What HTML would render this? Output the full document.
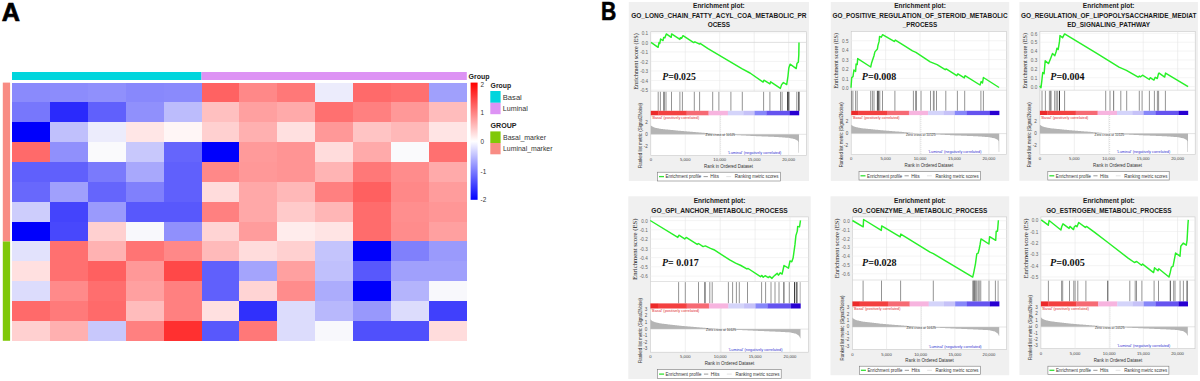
<!DOCTYPE html>
<html><head><meta charset="utf-8"><title>Figure</title>
<style>
html,body{margin:0;padding:0;background:#ffffff;}
body{width:1200px;height:381px;overflow:hidden;}
svg{display:block;font-family:"Liberation Sans", sans-serif;}
</style></head>
<body>
<svg width="1200" height="381" viewBox="0 0 1200 381">
<rect width="1200" height="381" fill="#ffffff"/>
<text x="1.8" y="20.6" font-size="25" font-weight="bold" fill="#000" stroke="#000" stroke-width="0.7" textLength="18.2" lengthAdjust="spacingAndGlyphs">A</text>
<text x="600.9" y="20.3" font-size="25" font-weight="bold" fill="#000" stroke="#000" stroke-width="0.6" textLength="15.3" lengthAdjust="spacingAndGlyphs">B</text>
<g shape-rendering="crispEdges">
<rect x="12.00" y="82.60" width="38.20" height="20.16" fill="#8a8afc"/>
<rect x="49.90" y="82.60" width="38.20" height="20.16" fill="#8c8cfc"/>
<rect x="87.80" y="82.60" width="38.20" height="20.16" fill="#9090fc"/>
<rect x="125.70" y="82.60" width="38.20" height="20.16" fill="#8888fc"/>
<rect x="163.60" y="82.60" width="38.20" height="20.16" fill="#8a8afc"/>
<rect x="201.50" y="82.60" width="38.20" height="20.16" fill="#ff6262"/>
<rect x="239.40" y="82.60" width="38.20" height="20.16" fill="#ff8888"/>
<rect x="277.30" y="82.60" width="38.20" height="20.16" fill="#ff7878"/>
<rect x="315.20" y="82.60" width="38.20" height="20.16" fill="#ececfc"/>
<rect x="353.10" y="82.60" width="38.20" height="20.16" fill="#ff6a6a"/>
<rect x="391.00" y="82.60" width="38.20" height="20.16" fill="#ff7070"/>
<rect x="428.90" y="82.60" width="38.20" height="20.16" fill="#a0a0fc"/>
<rect x="12.00" y="102.46" width="38.20" height="20.16" fill="#7777fc"/>
<rect x="49.90" y="102.46" width="38.20" height="20.16" fill="#2a2afc"/>
<rect x="87.80" y="102.46" width="38.20" height="20.16" fill="#6060fc"/>
<rect x="125.70" y="102.46" width="38.20" height="20.16" fill="#9090fc"/>
<rect x="163.60" y="102.46" width="38.20" height="20.16" fill="#bcbcfc"/>
<rect x="201.50" y="102.46" width="38.20" height="20.16" fill="#ffc0c0"/>
<rect x="239.40" y="102.46" width="38.20" height="20.16" fill="#ffa0a0"/>
<rect x="277.30" y="102.46" width="38.20" height="20.16" fill="#ffaaaa"/>
<rect x="315.20" y="102.46" width="38.20" height="20.16" fill="#ff7070"/>
<rect x="353.10" y="102.46" width="38.20" height="20.16" fill="#ff8080"/>
<rect x="391.00" y="102.46" width="38.20" height="20.16" fill="#ff9898"/>
<rect x="428.90" y="102.46" width="38.20" height="20.16" fill="#ffbcbc"/>
<rect x="12.00" y="122.32" width="38.20" height="20.16" fill="#0000fc"/>
<rect x="49.90" y="122.32" width="38.20" height="20.16" fill="#c0c0fc"/>
<rect x="87.80" y="122.32" width="38.20" height="20.16" fill="#ececfc"/>
<rect x="125.70" y="122.32" width="38.20" height="20.16" fill="#ffe6e6"/>
<rect x="163.60" y="122.32" width="38.20" height="20.16" fill="#fff6f6"/>
<rect x="201.50" y="122.32" width="38.20" height="20.16" fill="#ffd0d0"/>
<rect x="239.40" y="122.32" width="38.20" height="20.16" fill="#ffb0b0"/>
<rect x="277.30" y="122.32" width="38.20" height="20.16" fill="#ffe0e0"/>
<rect x="315.20" y="122.32" width="38.20" height="20.16" fill="#ff9898"/>
<rect x="353.10" y="122.32" width="38.20" height="20.16" fill="#ffc4c4"/>
<rect x="391.00" y="122.32" width="38.20" height="20.16" fill="#ffb8b8"/>
<rect x="428.90" y="122.32" width="38.20" height="20.16" fill="#ffe4e4"/>
<rect x="12.00" y="142.18" width="38.20" height="20.16" fill="#ff6a6a"/>
<rect x="49.90" y="142.18" width="38.20" height="20.16" fill="#9090fc"/>
<rect x="87.80" y="142.18" width="38.20" height="20.16" fill="#fafafc"/>
<rect x="125.70" y="142.18" width="38.20" height="20.16" fill="#c8c8fc"/>
<rect x="163.60" y="142.18" width="38.20" height="20.16" fill="#6565fc"/>
<rect x="201.50" y="142.18" width="38.20" height="20.16" fill="#0000fc"/>
<rect x="239.40" y="142.18" width="38.20" height="20.16" fill="#ff9a9a"/>
<rect x="277.30" y="142.18" width="38.20" height="20.16" fill="#ff9494"/>
<rect x="315.20" y="142.18" width="38.20" height="20.16" fill="#ffdcdc"/>
<rect x="353.10" y="142.18" width="38.20" height="20.16" fill="#ffaaaa"/>
<rect x="391.00" y="142.18" width="38.20" height="20.16" fill="#fafafc"/>
<rect x="428.90" y="142.18" width="38.20" height="20.16" fill="#ff7070"/>
<rect x="12.00" y="162.04" width="38.20" height="20.16" fill="#6060fc"/>
<rect x="49.90" y="162.04" width="38.20" height="20.16" fill="#6060fc"/>
<rect x="87.80" y="162.04" width="38.20" height="20.16" fill="#7a7afc"/>
<rect x="125.70" y="162.04" width="38.20" height="20.16" fill="#a8a8fc"/>
<rect x="163.60" y="162.04" width="38.20" height="20.16" fill="#6060fc"/>
<rect x="201.50" y="162.04" width="38.20" height="20.16" fill="#ff8888"/>
<rect x="239.40" y="162.04" width="38.20" height="20.16" fill="#ff9898"/>
<rect x="277.30" y="162.04" width="38.20" height="20.16" fill="#ff9494"/>
<rect x="315.20" y="162.04" width="38.20" height="20.16" fill="#ffb4b4"/>
<rect x="353.10" y="162.04" width="38.20" height="20.16" fill="#ff7878"/>
<rect x="391.00" y="162.04" width="38.20" height="20.16" fill="#ff8c8c"/>
<rect x="428.90" y="162.04" width="38.20" height="20.16" fill="#ffaaaa"/>
<rect x="12.00" y="181.90" width="38.20" height="20.16" fill="#6868fc"/>
<rect x="49.90" y="181.90" width="38.20" height="20.16" fill="#a0a0fc"/>
<rect x="87.80" y="181.90" width="38.20" height="20.16" fill="#6565fc"/>
<rect x="125.70" y="181.90" width="38.20" height="20.16" fill="#8080fc"/>
<rect x="163.60" y="181.90" width="38.20" height="20.16" fill="#6060fc"/>
<rect x="201.50" y="181.90" width="38.20" height="20.16" fill="#ffdcdc"/>
<rect x="239.40" y="181.90" width="38.20" height="20.16" fill="#ffa8a8"/>
<rect x="277.30" y="181.90" width="38.20" height="20.16" fill="#ffb8b8"/>
<rect x="315.20" y="181.90" width="38.20" height="20.16" fill="#ff8080"/>
<rect x="353.10" y="181.90" width="38.20" height="20.16" fill="#ff6060"/>
<rect x="391.00" y="181.90" width="38.20" height="20.16" fill="#ff8888"/>
<rect x="428.90" y="181.90" width="38.20" height="20.16" fill="#ff9c9c"/>
<rect x="12.00" y="201.76" width="38.20" height="20.16" fill="#cdcdfc"/>
<rect x="49.90" y="201.76" width="38.20" height="20.16" fill="#4444fc"/>
<rect x="87.80" y="201.76" width="38.20" height="20.16" fill="#9a9afc"/>
<rect x="125.70" y="201.76" width="38.20" height="20.16" fill="#5858fc"/>
<rect x="163.60" y="201.76" width="38.20" height="20.16" fill="#5858fc"/>
<rect x="201.50" y="201.76" width="38.20" height="20.16" fill="#ff8080"/>
<rect x="239.40" y="201.76" width="38.20" height="20.16" fill="#ffa8a8"/>
<rect x="277.30" y="201.76" width="38.20" height="20.16" fill="#ffcaca"/>
<rect x="315.20" y="201.76" width="38.20" height="20.16" fill="#ffb6b6"/>
<rect x="353.10" y="201.76" width="38.20" height="20.16" fill="#ff6c6c"/>
<rect x="391.00" y="201.76" width="38.20" height="20.16" fill="#ff8e8e"/>
<rect x="428.90" y="201.76" width="38.20" height="20.16" fill="#ff9696"/>
<rect x="12.00" y="221.62" width="38.20" height="20.16" fill="#0000fc"/>
<rect x="49.90" y="221.62" width="38.20" height="20.16" fill="#4848fc"/>
<rect x="87.80" y="221.62" width="38.20" height="20.16" fill="#ffd0d0"/>
<rect x="125.70" y="221.62" width="38.20" height="20.16" fill="#f8f8fc"/>
<rect x="163.60" y="221.62" width="38.20" height="20.16" fill="#9090fc"/>
<rect x="201.50" y="221.62" width="38.20" height="20.16" fill="#ffd4d4"/>
<rect x="239.40" y="221.62" width="38.20" height="20.16" fill="#ff9c9c"/>
<rect x="277.30" y="221.62" width="38.20" height="20.16" fill="#ffecec"/>
<rect x="315.20" y="221.62" width="38.20" height="20.16" fill="#ffe4e4"/>
<rect x="353.10" y="221.62" width="38.20" height="20.16" fill="#ff6c6c"/>
<rect x="391.00" y="221.62" width="38.20" height="20.16" fill="#ff8c8c"/>
<rect x="428.90" y="221.62" width="38.20" height="20.16" fill="#ffa0a0"/>
<rect x="12.00" y="241.48" width="38.20" height="20.16" fill="#e2e2fc"/>
<rect x="49.90" y="241.48" width="38.20" height="20.16" fill="#ff7070"/>
<rect x="87.80" y="241.48" width="38.20" height="20.16" fill="#ffb2b2"/>
<rect x="125.70" y="241.48" width="38.20" height="20.16" fill="#ff7474"/>
<rect x="163.60" y="241.48" width="38.20" height="20.16" fill="#ff8888"/>
<rect x="201.50" y="241.48" width="38.20" height="20.16" fill="#ffbaba"/>
<rect x="239.40" y="241.48" width="38.20" height="20.16" fill="#ffdcdc"/>
<rect x="277.30" y="241.48" width="38.20" height="20.16" fill="#ffd0d0"/>
<rect x="315.20" y="241.48" width="38.20" height="20.16" fill="#c4c4fc"/>
<rect x="353.10" y="241.48" width="38.20" height="20.16" fill="#0000fc"/>
<rect x="391.00" y="241.48" width="38.20" height="20.16" fill="#8080fc"/>
<rect x="428.90" y="241.48" width="38.20" height="20.16" fill="#9a9afc"/>
<rect x="12.00" y="261.34" width="38.20" height="20.16" fill="#ffe0e0"/>
<rect x="49.90" y="261.34" width="38.20" height="20.16" fill="#ff7070"/>
<rect x="87.80" y="261.34" width="38.20" height="20.16" fill="#ff6060"/>
<rect x="125.70" y="261.34" width="38.20" height="20.16" fill="#ff9898"/>
<rect x="163.60" y="261.34" width="38.20" height="20.16" fill="#ff4848"/>
<rect x="201.50" y="261.34" width="38.20" height="20.16" fill="#6060fc"/>
<rect x="239.40" y="261.34" width="38.20" height="20.16" fill="#a4a4fc"/>
<rect x="277.30" y="261.34" width="38.20" height="20.16" fill="#ffa0a0"/>
<rect x="315.20" y="261.34" width="38.20" height="20.16" fill="#c0c0fc"/>
<rect x="353.10" y="261.34" width="38.20" height="20.16" fill="#5858fc"/>
<rect x="391.00" y="261.34" width="38.20" height="20.16" fill="#a0a0fc"/>
<rect x="428.90" y="261.34" width="38.20" height="20.16" fill="#a0a0fc"/>
<rect x="12.00" y="281.20" width="38.20" height="20.16" fill="#dcdcfc"/>
<rect x="49.90" y="281.20" width="38.20" height="20.16" fill="#ff8a8a"/>
<rect x="87.80" y="281.20" width="38.20" height="20.16" fill="#ff6e6e"/>
<rect x="125.70" y="281.20" width="38.20" height="20.16" fill="#ffa0a0"/>
<rect x="163.60" y="281.20" width="38.20" height="20.16" fill="#ff8080"/>
<rect x="201.50" y="281.20" width="38.20" height="20.16" fill="#6060fc"/>
<rect x="239.40" y="281.20" width="38.20" height="20.16" fill="#ffd4d4"/>
<rect x="277.30" y="281.20" width="38.20" height="20.16" fill="#ff8c8c"/>
<rect x="315.20" y="281.20" width="38.20" height="20.16" fill="#acacfc"/>
<rect x="353.10" y="281.20" width="38.20" height="20.16" fill="#0000fc"/>
<rect x="391.00" y="281.20" width="38.20" height="20.16" fill="#b4b4fc"/>
<rect x="428.90" y="281.20" width="38.20" height="20.16" fill="#f8f8fc"/>
<rect x="12.00" y="301.06" width="38.20" height="20.16" fill="#ff6a6a"/>
<rect x="49.90" y="301.06" width="38.20" height="20.16" fill="#ff7a7a"/>
<rect x="87.80" y="301.06" width="38.20" height="20.16" fill="#ff6a6a"/>
<rect x="125.70" y="301.06" width="38.20" height="20.16" fill="#ffbcbc"/>
<rect x="163.60" y="301.06" width="38.20" height="20.16" fill="#ff8080"/>
<rect x="201.50" y="301.06" width="38.20" height="20.16" fill="#ffe0e0"/>
<rect x="239.40" y="301.06" width="38.20" height="20.16" fill="#3030fc"/>
<rect x="277.30" y="301.06" width="38.20" height="20.16" fill="#dcdcfc"/>
<rect x="315.20" y="301.06" width="38.20" height="20.16" fill="#b8b8fc"/>
<rect x="353.10" y="301.06" width="38.20" height="20.16" fill="#9898fc"/>
<rect x="391.00" y="301.06" width="38.20" height="20.16" fill="#dcdcfc"/>
<rect x="428.90" y="301.06" width="38.20" height="20.16" fill="#4040fc"/>
<rect x="12.00" y="320.92" width="38.20" height="20.16" fill="#ffd0d0"/>
<rect x="49.90" y="320.92" width="38.20" height="20.16" fill="#ffb0b0"/>
<rect x="87.80" y="320.92" width="38.20" height="20.16" fill="#c8c8fc"/>
<rect x="125.70" y="320.92" width="38.20" height="20.16" fill="#ff8080"/>
<rect x="163.60" y="320.92" width="38.20" height="20.16" fill="#ff3030"/>
<rect x="201.50" y="320.92" width="38.20" height="20.16" fill="#5858fc"/>
<rect x="239.40" y="320.92" width="38.20" height="20.16" fill="#ff7878"/>
<rect x="277.30" y="320.92" width="38.20" height="20.16" fill="#dcdcfc"/>
<rect x="315.20" y="320.92" width="38.20" height="20.16" fill="#f8f8fc"/>
<rect x="353.10" y="320.92" width="38.20" height="20.16" fill="#5050fc"/>
<rect x="391.00" y="320.92" width="38.20" height="20.16" fill="#5050fc"/>
<rect x="428.90" y="320.92" width="38.20" height="20.16" fill="#ffdcdc"/>
</g>
<rect x="12.0" y="72" width="189.50" height="8" fill="#00d5dd"/>
<rect x="201.50" y="72" width="265.30" height="8" fill="#dd93f4"/>
<rect x="2.8" y="82.6" width="7.3" height="158.88" fill="#f88c84"/>
<rect x="2.8" y="241.48" width="7.3" height="99.30" fill="#80c808"/>
<text x="468.5" y="79.2" font-size="7.6" font-weight="bold" fill="#222" textLength="21" lengthAdjust="spacingAndGlyphs">Group</text>
<defs><linearGradient id="cb" x1="0" y1="0" x2="0" y2="1"><stop offset="0" stop-color="#ff0000"/><stop offset="0.5" stop-color="#ffffff"/><stop offset="1" stop-color="#0000ff"/></linearGradient></defs>
<rect x="470.6" y="82.6" width="7" height="117.2" fill="url(#cb)"/>
<text x="480.5" y="86.7" font-size="6.4" fill="#333">2</text>
<text x="480.5" y="114.7" font-size="6.4" fill="#333">1</text>
<text x="480.5" y="143.9" font-size="6.4" fill="#333">0</text>
<text x="480.5" y="173.5" font-size="6.4" fill="#333">-1</text>
<text x="480.5" y="202.2" font-size="6.4" fill="#333">-2</text>
<text x="490.6" y="88.4" font-size="7.4" font-weight="bold" fill="#222" textLength="20.5" lengthAdjust="spacingAndGlyphs">Group</text>
<rect x="490.3" y="91" width="10.3" height="11.8" fill="#00d5dd"/>
<rect x="490.3" y="102.8" width="10.3" height="11.4" fill="#dd93f4"/>
<text x="502.8" y="100" font-size="7.2" fill="#333" textLength="19" lengthAdjust="spacingAndGlyphs">Basal</text>
<text x="502.8" y="111.4" font-size="7.2" fill="#333" textLength="25" lengthAdjust="spacingAndGlyphs">Luminal</text>
<text x="490.6" y="128.2" font-size="7.4" font-weight="bold" fill="#222" textLength="26" lengthAdjust="spacingAndGlyphs">GROUP</text>
<rect x="490.3" y="131.4" width="10.3" height="11.6" fill="#80c808"/>
<rect x="490.3" y="143" width="10.3" height="11.3" fill="#f88c84"/>
<text x="503" y="140.2" font-size="7.2" fill="#333" textLength="43" lengthAdjust="spacingAndGlyphs">Basal_marker</text>
<text x="503" y="151.4" font-size="7.2" fill="#333" textLength="49.5" lengthAdjust="spacingAndGlyphs">Luminal_marker</text>
<rect x="628.8" y="2.0" width="180.20" height="179.00" fill="#f0f0f0"/>
<text x="718.9" y="8.4" font-size="6.9" font-weight="bold" fill="#1a1a1a" text-anchor="middle" textLength="51.7" lengthAdjust="spacingAndGlyphs">Enrichment plot:</text>
<text x="718.9" y="18.0" font-size="6.8" font-weight="bold" fill="#1a1a1a" text-anchor="middle" textLength="175.4" lengthAdjust="spacingAndGlyphs">GO_LONG_CHAIN_FATTY_ACYL_COA_METABOLIC_PR</text>
<text x="718.9" y="26.7" font-size="6.8" font-weight="bold" fill="#1a1a1a" text-anchor="middle" textLength="22.5" lengthAdjust="spacingAndGlyphs">OCESS</text>
<rect x="650.8" y="31.7" width="155.50" height="123.80" fill="#ffffff" stroke="#c8c8c8" stroke-width="0.6"/>
<line x1="650.8" y1="32.88" x2="806.3" y2="32.88" stroke="#ededed" stroke-width="0.6"/>
<text x="648.1" y="35.08" font-size="4.6" fill="#666" text-anchor="end">0.1</text>
<line x1="650.8" y1="42.40" x2="806.3" y2="42.40" stroke="#ededed" stroke-width="0.6"/>
<text x="648.1" y="44.60" font-size="4.6" fill="#666" text-anchor="end">0.0</text>
<line x1="650.8" y1="51.92" x2="806.3" y2="51.92" stroke="#ededed" stroke-width="0.6"/>
<text x="648.1" y="54.12" font-size="4.6" fill="#666" text-anchor="end">-0.1</text>
<line x1="650.8" y1="61.44" x2="806.3" y2="61.44" stroke="#ededed" stroke-width="0.6"/>
<text x="648.1" y="63.64" font-size="4.6" fill="#666" text-anchor="end">-0.2</text>
<line x1="650.8" y1="70.96" x2="806.3" y2="70.96" stroke="#ededed" stroke-width="0.6"/>
<text x="648.1" y="73.16" font-size="4.6" fill="#666" text-anchor="end">-0.3</text>
<line x1="650.8" y1="80.48" x2="806.3" y2="80.48" stroke="#ededed" stroke-width="0.6"/>
<text x="648.1" y="82.68" font-size="4.6" fill="#666" text-anchor="end">-0.4</text>
<line x1="650.8" y1="90.00" x2="806.3" y2="90.00" stroke="#ededed" stroke-width="0.6"/>
<text x="648.1" y="92.20" font-size="4.6" fill="#666" text-anchor="end">-0.5</text>
<line x1="685.27" y1="31.7" x2="685.27" y2="91.2" stroke="#e6e6e6" stroke-width="0.6"/>
<line x1="685.27" y1="115.3" x2="685.27" y2="155.5" stroke="#e6e6e6" stroke-width="0.6"/>
<line x1="719.73" y1="31.7" x2="719.73" y2="91.2" stroke="#e6e6e6" stroke-width="0.6"/>
<line x1="719.73" y1="115.3" x2="719.73" y2="155.5" stroke="#e6e6e6" stroke-width="0.6"/>
<line x1="754.20" y1="31.7" x2="754.20" y2="91.2" stroke="#e6e6e6" stroke-width="0.6"/>
<line x1="754.20" y1="115.3" x2="754.20" y2="155.5" stroke="#e6e6e6" stroke-width="0.6"/>
<line x1="788.66" y1="31.7" x2="788.66" y2="91.2" stroke="#e6e6e6" stroke-width="0.6"/>
<line x1="788.66" y1="115.3" x2="788.66" y2="155.5" stroke="#e6e6e6" stroke-width="0.6"/>
<line x1="650.8" y1="91.2" x2="806.3" y2="91.2" stroke="#d0d0d0" stroke-width="0.6"/>
<line x1="650.8" y1="42.40" x2="806.3" y2="42.40" stroke="#d4d4d4" stroke-width="0.6"/>
<text transform="translate(637.8,61.5) rotate(-90)" font-family="Liberation Serif, serif" font-size="5.8" fill="#222" text-anchor="middle" textLength="56.5" lengthAdjust="spacingAndGlyphs">Enrichment score (ES)</text>
<line x1="658.20" y1="91.80" x2="658.20" y2="110.80" stroke="#888888" stroke-width="0.9"/>
<line x1="660.40" y1="91.80" x2="660.40" y2="110.80" stroke="#888888" stroke-width="0.9"/>
<line x1="663.50" y1="91.80" x2="663.50" y2="110.80" stroke="#888888" stroke-width="0.9"/>
<line x1="664.50" y1="91.80" x2="664.50" y2="110.80" stroke="#888888" stroke-width="0.9"/>
<line x1="666.00" y1="91.80" x2="666.00" y2="110.80" stroke="#888888" stroke-width="0.9"/>
<line x1="671.50" y1="91.80" x2="671.50" y2="110.80" stroke="#888888" stroke-width="0.9"/>
<line x1="679.90" y1="91.80" x2="679.90" y2="110.80" stroke="#888888" stroke-width="0.9"/>
<line x1="682.40" y1="91.80" x2="682.40" y2="110.80" stroke="#888888" stroke-width="0.9"/>
<line x1="694.30" y1="91.80" x2="694.30" y2="110.80" stroke="#888888" stroke-width="0.9"/>
<line x1="699.60" y1="91.80" x2="699.60" y2="110.80" stroke="#888888" stroke-width="0.9"/>
<line x1="712.70" y1="91.80" x2="712.70" y2="110.80" stroke="#888888" stroke-width="0.9"/>
<line x1="718.90" y1="91.80" x2="718.90" y2="110.80" stroke="#888888" stroke-width="0.9"/>
<line x1="730.90" y1="91.80" x2="730.90" y2="110.80" stroke="#888888" stroke-width="0.9"/>
<line x1="742.30" y1="91.80" x2="742.30" y2="110.80" stroke="#888888" stroke-width="0.9"/>
<line x1="763.60" y1="91.80" x2="763.60" y2="110.80" stroke="#888888" stroke-width="0.9"/>
<line x1="769.90" y1="91.80" x2="769.90" y2="110.80" stroke="#888888" stroke-width="0.9"/>
<line x1="780.50" y1="91.80" x2="780.50" y2="110.80" stroke="#888888" stroke-width="0.9"/>
<line x1="782.10" y1="91.80" x2="782.10" y2="110.80" stroke="#888888" stroke-width="0.9"/>
<line x1="787.60" y1="91.80" x2="787.60" y2="110.80" stroke="#222" stroke-width="0.9"/>
<line x1="788.40" y1="91.80" x2="788.40" y2="110.80" stroke="#333" stroke-width="0.9"/>
<line x1="789.20" y1="91.80" x2="789.20" y2="110.80" stroke="#888888" stroke-width="0.9"/>
<line x1="796.80" y1="91.80" x2="796.80" y2="110.80" stroke="#888888" stroke-width="0.9"/>
<line x1="798.60" y1="91.80" x2="798.60" y2="110.80" stroke="#444" stroke-width="0.9"/>
<line x1="799.40" y1="91.80" x2="799.40" y2="110.80" stroke="#888888" stroke-width="0.9"/>
<rect x="650.80" y="110.80" width="7.61" height="4.50" fill="#ec2a2a"/>
<rect x="658.21" y="110.80" width="28.65" height="4.50" fill="#f34040"/>
<rect x="686.66" y="110.80" width="22.13" height="4.50" fill="#f66a74"/>
<rect x="708.60" y="110.80" width="19.47" height="4.50" fill="#f7b4df"/>
<rect x="727.86" y="110.80" width="15.61" height="4.50" fill="#d4d4fa"/>
<rect x="743.28" y="110.80" width="11.46" height="4.50" fill="#c6c2f8"/>
<rect x="754.54" y="110.80" width="12.06" height="4.50" fill="#8787f9"/>
<rect x="766.40" y="110.80" width="23.47" height="4.50" fill="#6553ef"/>
<rect x="789.66" y="110.80" width="9.54" height="4.50" fill="#2800d2"/>
<polygon points="650.80,134.30 650.80,125.38 651.54,125.97 652.28,126.57 653.02,126.86 653.76,127.16 654.50,127.46 655.25,127.76 655.99,127.90 656.73,128.05 657.47,128.20 658.21,128.35 658.95,128.50 659.69,128.65 660.43,128.80 661.17,128.95 661.91,129.02 662.66,129.09 663.40,129.16 664.14,129.24 664.88,129.31 665.62,129.38 666.36,129.46 667.10,129.53 667.84,129.60 668.58,129.68 669.32,129.75 670.07,129.82 670.81,129.90 671.55,129.97 672.29,130.04 673.03,130.12 673.77,130.19 674.51,130.26 675.25,130.34 675.99,130.41 676.74,130.48 677.48,130.56 678.22,130.63 678.96,130.70 679.70,130.78 680.44,130.85 681.18,130.91 681.92,130.97 682.66,131.03 683.40,131.09 684.14,131.16 684.89,131.22 685.63,131.28 686.37,131.34 687.11,131.40 687.85,131.46 688.59,131.53 689.33,131.59 690.07,131.65 690.81,131.71 691.55,131.77 692.30,131.83 693.04,131.89 693.78,131.96 694.52,132.02 695.26,132.08 696.00,132.14 696.74,132.20 697.48,132.26 698.22,132.32 698.96,132.39 699.71,132.45 700.45,132.51 701.19,132.57 701.93,132.63 702.67,132.69 703.41,132.76 704.15,132.83 704.89,132.89 705.63,132.96 706.38,133.03 707.12,133.10 707.86,133.16 708.60,133.23 709.34,133.30 710.08,133.36 710.82,133.43 711.56,133.50 712.30,133.56 713.04,133.63 713.78,133.70 714.53,133.76 715.27,133.83 716.01,133.90 716.75,133.97 717.49,134.03 718.23,134.10 718.97,134.17 719.71,134.23 720.45,134.30 721.19,134.34 721.94,134.38 722.68,134.42 723.42,134.46 724.16,134.49 724.90,134.53 725.64,134.57 726.38,134.61 727.12,134.65 727.86,134.69 728.61,134.73 729.35,134.77 730.09,134.80 730.83,134.84 731.57,134.88 732.31,134.92 733.05,134.96 733.79,135.00 734.53,135.04 735.27,135.08 736.01,135.11 736.76,135.15 737.50,135.19 738.24,135.23 738.98,135.27 739.72,135.31 740.46,135.35 741.20,135.39 741.94,135.43 742.68,135.46 743.42,135.50 744.17,135.54 744.91,135.58 745.65,135.62 746.39,135.66 747.13,135.70 747.87,135.74 748.61,135.77 749.35,135.81 750.09,135.85 750.84,135.89 751.58,135.93 752.32,135.97 753.06,136.01 753.80,136.05 754.54,136.09 755.28,136.11 756.02,136.14 756.76,136.17 757.50,136.20 758.25,136.23 758.99,136.26 759.73,136.29 760.47,136.32 761.21,136.35 761.95,136.38 762.69,136.41 763.43,136.44 764.17,136.47 764.91,136.50 765.65,136.53 766.40,136.56 767.14,136.59 767.88,136.62 768.62,136.65 769.36,136.68 770.10,136.71 770.84,136.74 771.58,136.77 772.32,136.80 773.06,136.83 773.81,136.86 774.55,136.89 775.29,136.92 776.03,136.95 776.77,136.98 777.51,137.03 778.25,137.09 778.99,137.14 779.73,137.20 780.48,137.26 781.22,137.31 781.96,137.37 782.70,137.42 783.44,137.48 784.18,137.54 784.92,137.59 785.66,137.65 786.40,137.70 787.14,137.76 787.88,137.81 788.63,137.87 789.37,138.02 790.11,138.17 790.85,138.32 791.59,138.47 792.33,138.61 793.07,138.76 793.81,138.91 794.55,139.06 795.29,139.43 796.04,139.80 796.78,140.18 797.52,140.55 798.26,141.79 798.41,142.04 798.56,152.75 799.00,152.75 799.00,134.30" fill="#b4b4b4"/>
<line x1="650.8" y1="134.30" x2="806.3" y2="134.30" stroke="#c8c8c8" stroke-width="0.5"/>
<line x1="720.59" y1="115.3" x2="720.59" y2="155.5" stroke="#bbbbbb" stroke-width="0.5" stroke-dasharray="1,1"/>
<text x="647.8" y="123.80" font-size="4.6" fill="#555" text-anchor="end">2</text>
<text x="647.8" y="135.70" font-size="4.6" fill="#555" text-anchor="end">0</text>
<text x="647.8" y="147.60" font-size="4.6" fill="#555" text-anchor="end">-2</text>
<text x="651.8" y="118.90" font-size="3.4" fill="#e03030" textLength="47.4" lengthAdjust="spacingAndGlyphs">'Basal' (positively correlated)</text>
<text x="705.6" y="136.30" font-size="3.6" fill="#333" textLength="29.6" lengthAdjust="spacingAndGlyphs">Zero cross at 10125</text>
<text x="727.9" y="153.90" font-size="3.6" fill="#3030d0" textLength="53.4" lengthAdjust="spacingAndGlyphs">'Luminal' (negatively correlated)</text>
<text transform="translate(642.1,135.4) rotate(-90)" font-size="5.2" fill="#333" text-anchor="middle" textLength="65" lengthAdjust="spacingAndGlyphs">Ranked list metric (Signal2Noise)</text>
<text x="650.80" y="161.10" font-size="4.2" fill="#444" text-anchor="middle">0</text>
<text x="685.27" y="161.10" font-size="4.2" fill="#444" text-anchor="middle">5,000</text>
<text x="719.73" y="161.10" font-size="4.2" fill="#444" text-anchor="middle">10,000</text>
<text x="754.20" y="161.10" font-size="4.2" fill="#444" text-anchor="middle">15,000</text>
<text x="788.66" y="161.10" font-size="4.2" fill="#444" text-anchor="middle">20,000</text>
<text x="728.55" y="167.90" font-size="5.2" fill="#333" text-anchor="middle" textLength="48.9" lengthAdjust="spacingAndGlyphs">Rank in Ordered Dataset</text>
<rect x="657.5" y="172.2" width="122.80" height="8.80" fill="#ffffff" stroke="#7a7a7a" stroke-width="0.6"/>
<line x1="659.00" y1="176.60" x2="664.00" y2="176.60" stroke="#33e033" stroke-width="1.3"/>
<text x="665.50" y="178.40" font-size="5" fill="#333" textLength="35.6" lengthAdjust="spacingAndGlyphs">Enrichment profile</text>
<line x1="703.55" y1="176.60" x2="707.85" y2="176.60" stroke="#555" stroke-width="0.6"/>
<text x="710.30" y="178.40" font-size="5" fill="#333" textLength="8.6" lengthAdjust="spacingAndGlyphs">Hits</text>
<line x1="726.27" y1="176.60" x2="731.18" y2="176.60" stroke="#ccc" stroke-width="0.6"/>
<text x="734.86" y="178.40" font-size="5" fill="#333" textLength="43.6" lengthAdjust="spacingAndGlyphs">Ranking metric scores</text>
<polyline points="651.00,42.40 658.10,47.30 659.00,42.60 659.80,43.40 660.60,39.00 663.00,40.60 663.70,37.40 664.90,37.80 666.30,33.90 671.20,37.30 671.60,33.90 679.90,39.40 680.30,37.80 681.70,38.20 683.00,35.70 693.70,42.60 694.90,41.80 699.60,44.10 700.10,43.40 708.00,48.60 741.80,68.70 750.00,73.00 763.10,82.10 763.90,80.20 769.90,83.90 770.70,81.80 780.40,88.40 781.50,84.90 783.40,82.50 786.70,84.60 788.00,76.00 788.80,68.10 790.10,64.20 796.20,68.60 797.00,63.40 798.30,62.30 798.80,55.00 799.00,42.40" fill="none" stroke="#28f028" stroke-width="1.45" stroke-linejoin="round"/>
<text x="662.2" y="79.5" font-family="Liberation Serif, serif" font-size="10.4" font-weight="bold" fill="#111" textLength="33.6" lengthAdjust="spacingAndGlyphs"><tspan font-style="italic">P</tspan>=0.025</text>
<rect x="830.8" y="2.0" width="178.40" height="178.90" fill="#f0f0f0"/>
<text x="920.0" y="8.4" font-size="6.9" font-weight="bold" fill="#1a1a1a" text-anchor="middle" textLength="51.7" lengthAdjust="spacingAndGlyphs">Enrichment plot:</text>
<text x="920.0" y="17.8" font-size="6.8" font-weight="bold" fill="#1a1a1a" text-anchor="middle" textLength="175.1" lengthAdjust="spacingAndGlyphs">GO_POSITIVE_REGULATION_OF_STEROID_METABOLIC</text>
<text x="920.0" y="27.0" font-size="6.8" font-weight="bold" fill="#1a1a1a" text-anchor="middle" textLength="34.5" lengthAdjust="spacingAndGlyphs">_PROCESS</text>
<rect x="851.2" y="31.5" width="155.40" height="123.10" fill="#ffffff" stroke="#c8c8c8" stroke-width="0.6"/>
<line x1="851.2" y1="40.70" x2="1006.6" y2="40.70" stroke="#ededed" stroke-width="0.6"/>
<text x="848.5" y="42.90" font-size="4.6" fill="#666" text-anchor="end">0.5</text>
<line x1="851.2" y1="50.14" x2="1006.6" y2="50.14" stroke="#ededed" stroke-width="0.6"/>
<text x="848.5" y="52.34" font-size="4.6" fill="#666" text-anchor="end">0.4</text>
<line x1="851.2" y1="59.58" x2="1006.6" y2="59.58" stroke="#ededed" stroke-width="0.6"/>
<text x="848.5" y="61.78" font-size="4.6" fill="#666" text-anchor="end">0.3</text>
<line x1="851.2" y1="69.02" x2="1006.6" y2="69.02" stroke="#ededed" stroke-width="0.6"/>
<text x="848.5" y="71.22" font-size="4.6" fill="#666" text-anchor="end">0.2</text>
<line x1="851.2" y1="78.46" x2="1006.6" y2="78.46" stroke="#ededed" stroke-width="0.6"/>
<text x="848.5" y="80.66" font-size="4.6" fill="#666" text-anchor="end">0.1</text>
<line x1="851.2" y1="87.90" x2="1006.6" y2="87.90" stroke="#ededed" stroke-width="0.6"/>
<text x="848.5" y="90.10" font-size="4.6" fill="#666" text-anchor="end">0.0</text>
<line x1="885.62" y1="31.5" x2="885.62" y2="90.2" stroke="#e6e6e6" stroke-width="0.6"/>
<line x1="885.62" y1="115.1" x2="885.62" y2="154.6" stroke="#e6e6e6" stroke-width="0.6"/>
<line x1="920.04" y1="31.5" x2="920.04" y2="90.2" stroke="#e6e6e6" stroke-width="0.6"/>
<line x1="920.04" y1="115.1" x2="920.04" y2="154.6" stroke="#e6e6e6" stroke-width="0.6"/>
<line x1="954.46" y1="31.5" x2="954.46" y2="90.2" stroke="#e6e6e6" stroke-width="0.6"/>
<line x1="954.46" y1="115.1" x2="954.46" y2="154.6" stroke="#e6e6e6" stroke-width="0.6"/>
<line x1="988.87" y1="31.5" x2="988.87" y2="90.2" stroke="#e6e6e6" stroke-width="0.6"/>
<line x1="988.87" y1="115.1" x2="988.87" y2="154.6" stroke="#e6e6e6" stroke-width="0.6"/>
<line x1="851.2" y1="90.2" x2="1006.6" y2="90.2" stroke="#d0d0d0" stroke-width="0.6"/>
<text transform="translate(838.2,60.9) rotate(-90)" font-family="Liberation Serif, serif" font-size="5.8" fill="#222" text-anchor="middle" textLength="55.8" lengthAdjust="spacingAndGlyphs">Enrichment score (ES)</text>
<line x1="851.50" y1="90.80" x2="851.50" y2="110.80" stroke="#888888" stroke-width="0.9"/>
<line x1="852.90" y1="90.80" x2="852.90" y2="110.80" stroke="#888888" stroke-width="0.9"/>
<line x1="855.60" y1="90.80" x2="855.60" y2="110.80" stroke="#888888" stroke-width="0.9"/>
<line x1="857.20" y1="90.80" x2="857.20" y2="110.80" stroke="#888888" stroke-width="0.9"/>
<line x1="870.70" y1="90.80" x2="870.70" y2="110.80" stroke="#888888" stroke-width="0.9"/>
<line x1="872.40" y1="90.80" x2="872.40" y2="110.80" stroke="#888888" stroke-width="0.9"/>
<line x1="874.00" y1="90.80" x2="874.00" y2="110.80" stroke="#888888" stroke-width="0.9"/>
<line x1="877.40" y1="90.80" x2="877.40" y2="110.80" stroke="#333" stroke-width="0.9"/>
<line x1="878.70" y1="90.80" x2="878.70" y2="110.80" stroke="#333" stroke-width="0.9"/>
<line x1="879.80" y1="90.80" x2="879.80" y2="110.80" stroke="#888888" stroke-width="0.9"/>
<line x1="882.50" y1="90.80" x2="882.50" y2="110.80" stroke="#888888" stroke-width="0.9"/>
<line x1="894.90" y1="90.80" x2="894.90" y2="110.80" stroke="#888888" stroke-width="0.9"/>
<line x1="913.40" y1="90.80" x2="913.40" y2="110.80" stroke="#888888" stroke-width="0.9"/>
<line x1="915.60" y1="90.80" x2="915.60" y2="110.80" stroke="#888888" stroke-width="0.9"/>
<line x1="916.50" y1="90.80" x2="916.50" y2="110.80" stroke="#888888" stroke-width="0.9"/>
<line x1="921.00" y1="90.80" x2="921.00" y2="110.80" stroke="#888888" stroke-width="0.9"/>
<line x1="930.50" y1="90.80" x2="930.50" y2="110.80" stroke="#888888" stroke-width="0.9"/>
<line x1="933.40" y1="90.80" x2="933.40" y2="110.80" stroke="#888888" stroke-width="0.9"/>
<line x1="934.10" y1="90.80" x2="934.10" y2="110.80" stroke="#888888" stroke-width="0.9"/>
<line x1="936.50" y1="90.80" x2="936.50" y2="110.80" stroke="#888888" stroke-width="0.9"/>
<line x1="945.80" y1="90.80" x2="945.80" y2="110.80" stroke="#888888" stroke-width="0.9"/>
<line x1="957.40" y1="90.80" x2="957.40" y2="110.80" stroke="#888888" stroke-width="0.9"/>
<line x1="964.70" y1="90.80" x2="964.70" y2="110.80" stroke="#888888" stroke-width="0.9"/>
<line x1="980.90" y1="90.80" x2="980.90" y2="110.80" stroke="#888888" stroke-width="0.9"/>
<line x1="983.40" y1="90.80" x2="983.40" y2="110.80" stroke="#888888" stroke-width="0.9"/>
<rect x="851.20" y="110.80" width="7.60" height="4.30" fill="#ec2a2a"/>
<rect x="858.60" y="110.80" width="28.62" height="4.30" fill="#f34040"/>
<rect x="887.02" y="110.80" width="22.10" height="4.30" fill="#f66a74"/>
<rect x="908.92" y="110.80" width="19.44" height="4.30" fill="#f7b4df"/>
<rect x="928.16" y="110.80" width="15.59" height="4.30" fill="#d4d4fa"/>
<rect x="943.55" y="110.80" width="11.45" height="4.30" fill="#c6c2f8"/>
<rect x="954.80" y="110.80" width="12.04" height="4.30" fill="#8787f9"/>
<rect x="966.64" y="110.80" width="23.44" height="4.30" fill="#6553ef"/>
<rect x="989.88" y="110.80" width="9.52" height="4.30" fill="#2800d2"/>
<polygon points="851.20,133.60 851.20,124.67 851.94,125.27 852.68,125.86 853.42,126.16 854.16,126.46 854.90,126.76 855.64,127.05 856.38,127.20 857.12,127.35 857.86,127.50 858.60,127.65 859.34,127.80 860.08,127.95 860.82,128.10 861.56,128.25 862.30,128.32 863.04,128.39 863.78,128.46 864.52,128.54 865.26,128.61 866.00,128.68 866.74,128.76 867.48,128.83 868.22,128.90 868.96,128.98 869.70,129.05 870.44,129.12 871.18,129.20 871.92,129.27 872.66,129.34 873.40,129.42 874.14,129.49 874.88,129.56 875.62,129.64 876.36,129.71 877.10,129.78 877.84,129.86 878.58,129.93 879.32,130.00 880.06,130.08 880.80,130.15 881.54,130.21 882.28,130.27 883.02,130.33 883.76,130.39 884.50,130.46 885.24,130.52 885.98,130.58 886.72,130.64 887.46,130.70 888.20,130.76 888.94,130.83 889.68,130.89 890.42,130.95 891.16,131.01 891.90,131.07 892.64,131.13 893.38,131.19 894.12,131.26 894.86,131.32 895.60,131.38 896.34,131.44 897.08,131.50 897.82,131.56 898.56,131.62 899.30,131.69 900.04,131.75 900.78,131.81 901.52,131.87 902.26,131.93 903.00,131.99 903.74,132.06 904.48,132.13 905.22,132.19 905.96,132.26 906.70,132.33 907.44,132.40 908.18,132.46 908.92,132.53 909.66,132.60 910.40,132.66 911.14,132.73 911.88,132.80 912.62,132.86 913.36,132.93 914.10,133.00 914.84,133.06 915.58,133.13 916.32,133.20 917.06,133.27 917.80,133.33 918.54,133.40 919.28,133.47 920.02,133.53 920.76,133.60 921.50,133.64 922.24,133.68 922.98,133.72 923.72,133.76 924.46,133.79 925.20,133.83 925.94,133.87 926.68,133.91 927.42,133.95 928.16,133.99 928.90,134.03 929.64,134.07 930.38,134.10 931.12,134.14 931.86,134.18 932.60,134.22 933.34,134.26 934.08,134.30 934.82,134.34 935.56,134.38 936.30,134.41 937.04,134.45 937.78,134.49 938.52,134.53 939.26,134.57 940.00,134.61 940.74,134.65 941.48,134.69 942.22,134.73 942.96,134.76 943.70,134.80 944.44,134.84 945.18,134.88 945.92,134.92 946.66,134.96 947.40,135.00 948.14,135.04 948.88,135.07 949.62,135.11 950.36,135.15 951.10,135.19 951.84,135.23 952.58,135.27 953.32,135.31 954.06,135.35 954.80,135.38 955.54,135.41 956.28,135.44 957.02,135.47 957.76,135.50 958.50,135.53 959.24,135.56 959.98,135.59 960.72,135.62 961.46,135.65 962.20,135.68 962.94,135.71 963.68,135.74 964.42,135.77 965.16,135.80 965.90,135.83 966.64,135.86 967.38,135.89 968.12,135.92 968.86,135.95 969.60,135.98 970.34,136.01 971.08,136.04 971.82,136.07 972.56,136.10 973.30,136.13 974.04,136.16 974.78,136.19 975.52,136.22 976.26,136.25 977.00,136.28 977.74,136.33 978.48,136.39 979.22,136.44 979.96,136.50 980.70,136.56 981.44,136.61 982.18,136.67 982.92,136.72 983.66,136.78 984.40,136.84 985.14,136.89 985.88,136.95 986.62,137.00 987.36,137.06 988.10,137.11 988.84,137.17 989.58,137.32 990.32,137.47 991.06,137.62 991.80,137.76 992.54,137.91 993.28,138.06 994.02,138.21 994.76,138.36 995.50,138.73 996.24,139.10 996.98,139.48 997.72,139.85 998.46,141.09 998.61,141.34 998.76,152.04 999.20,152.04 999.20,133.60" fill="#b4b4b4"/>
<line x1="851.2" y1="133.60" x2="1006.6" y2="133.60" stroke="#c8c8c8" stroke-width="0.5"/>
<line x1="920.90" y1="115.1" x2="920.90" y2="154.6" stroke="#bbbbbb" stroke-width="0.5" stroke-dasharray="1,1"/>
<text x="848.2" y="123.10" font-size="4.6" fill="#555" text-anchor="end">2</text>
<text x="848.2" y="135.00" font-size="4.6" fill="#555" text-anchor="end">0</text>
<text x="848.2" y="146.90" font-size="4.6" fill="#555" text-anchor="end">-2</text>
<text x="852.2" y="118.70" font-size="3.4" fill="#e03030" textLength="47.4" lengthAdjust="spacingAndGlyphs">'Basal' (positively correlated)</text>
<text x="905.9" y="135.60" font-size="3.6" fill="#333" textLength="29.6" lengthAdjust="spacingAndGlyphs">Zero cross at 10125</text>
<text x="928.2" y="153.00" font-size="3.6" fill="#3030d0" textLength="53.3" lengthAdjust="spacingAndGlyphs">'Luminal' (negatively correlated)</text>
<text transform="translate(842.5,134.8) rotate(-90)" font-size="5.2" fill="#333" text-anchor="middle" textLength="65" lengthAdjust="spacingAndGlyphs">Ranked list metric (Signal2Noise)</text>
<text x="851.20" y="160.20" font-size="4.2" fill="#444" text-anchor="middle">0</text>
<text x="885.62" y="160.20" font-size="4.2" fill="#444" text-anchor="middle">5,000</text>
<text x="920.04" y="160.20" font-size="4.2" fill="#444" text-anchor="middle">10,000</text>
<text x="954.46" y="160.20" font-size="4.2" fill="#444" text-anchor="middle">15,000</text>
<text x="988.87" y="160.20" font-size="4.2" fill="#444" text-anchor="middle">20,000</text>
<text x="928.90" y="167.00" font-size="5.2" fill="#333" text-anchor="middle" textLength="48.8" lengthAdjust="spacingAndGlyphs">Rank in Ordered Dataset</text>
<rect x="859.0" y="171.6" width="121.40" height="8.40" fill="#ffffff" stroke="#7a7a7a" stroke-width="0.6"/>
<line x1="860.50" y1="175.80" x2="865.50" y2="175.80" stroke="#33e033" stroke-width="1.3"/>
<text x="867.00" y="177.60" font-size="5" fill="#333" textLength="35.2" lengthAdjust="spacingAndGlyphs">Enrichment profile</text>
<line x1="904.52" y1="175.80" x2="908.77" y2="175.80" stroke="#555" stroke-width="0.6"/>
<text x="911.20" y="177.60" font-size="5" fill="#333" textLength="8.5" lengthAdjust="spacingAndGlyphs">Hits</text>
<line x1="926.98" y1="175.80" x2="931.84" y2="175.80" stroke="#ccc" stroke-width="0.6"/>
<text x="935.48" y="177.60" font-size="5" fill="#333" textLength="43.1" lengthAdjust="spacingAndGlyphs">Ranking metric scores</text>
<polyline points="851.00,87.70 851.70,77.60 853.00,76.70 853.90,70.00 855.60,71.40 856.10,64.10 857.20,64.60 857.70,58.60 870.70,67.00 871.50,63.30 872.90,59.10 874.00,55.70 874.90,51.90 877.40,49.00 877.90,45.60 879.10,41.40 879.60,36.40 881.30,37.20 882.50,34.70 894.20,41.40 895.40,40.10 905.00,46.10 912.50,50.90 915.90,52.30 930.20,61.80 937.10,64.60 945.20,69.70 946.20,68.90 956.80,75.70 957.90,73.80 964.30,77.90 965.00,75.70 980.00,85.00 981.10,81.60 982.50,83.00 983.40,77.50 999.10,87.50" fill="none" stroke="#28f028" stroke-width="1.45" stroke-linejoin="round"/>
<text x="861.8" y="80.2" font-family="Liberation Serif, serif" font-size="10.4" font-weight="bold" fill="#111" textLength="34.4" lengthAdjust="spacingAndGlyphs"><tspan font-style="italic">P</tspan>=0.008</text>
<rect x="1019.4" y="2.0" width="178.50" height="178.80" fill="#f0f0f0"/>
<text x="1108.7" y="8.4" font-size="6.9" font-weight="bold" fill="#1a1a1a" text-anchor="middle" textLength="51.7" lengthAdjust="spacingAndGlyphs">Enrichment plot:</text>
<text x="1108.7" y="17.8" font-size="6.8" font-weight="bold" fill="#1a1a1a" text-anchor="middle" textLength="175.4" lengthAdjust="spacingAndGlyphs">GO_REGULATION_OF_LIPOPOLYSACCHARIDE_MEDIAT</text>
<text x="1108.7" y="27.0" font-size="6.8" font-weight="bold" fill="#1a1a1a" text-anchor="middle" textLength="83.0" lengthAdjust="spacingAndGlyphs">ED_SIGNALING_PATHWAY</text>
<rect x="1039.9" y="31.5" width="155.30" height="123.10" fill="#ffffff" stroke="#c8c8c8" stroke-width="0.6"/>
<line x1="1039.9" y1="33.32" x2="1195.2" y2="33.32" stroke="#ededed" stroke-width="0.6"/>
<text x="1037.2" y="35.52" font-size="4.6" fill="#666" text-anchor="end">0.6</text>
<line x1="1039.9" y1="42.20" x2="1195.2" y2="42.20" stroke="#ededed" stroke-width="0.6"/>
<text x="1037.2" y="44.40" font-size="4.6" fill="#666" text-anchor="end">0.5</text>
<line x1="1039.9" y1="51.08" x2="1195.2" y2="51.08" stroke="#ededed" stroke-width="0.6"/>
<text x="1037.2" y="53.28" font-size="4.6" fill="#666" text-anchor="end">0.4</text>
<line x1="1039.9" y1="59.96" x2="1195.2" y2="59.96" stroke="#ededed" stroke-width="0.6"/>
<text x="1037.2" y="62.16" font-size="4.6" fill="#666" text-anchor="end">0.3</text>
<line x1="1039.9" y1="68.84" x2="1195.2" y2="68.84" stroke="#ededed" stroke-width="0.6"/>
<text x="1037.2" y="71.04" font-size="4.6" fill="#666" text-anchor="end">0.2</text>
<line x1="1039.9" y1="77.72" x2="1195.2" y2="77.72" stroke="#ededed" stroke-width="0.6"/>
<text x="1037.2" y="79.92" font-size="4.6" fill="#666" text-anchor="end">0.1</text>
<line x1="1039.9" y1="86.60" x2="1195.2" y2="86.60" stroke="#ededed" stroke-width="0.6"/>
<text x="1037.2" y="88.80" font-size="4.6" fill="#666" text-anchor="end">0.0</text>
<line x1="1074.34" y1="31.5" x2="1074.34" y2="90.2" stroke="#e6e6e6" stroke-width="0.6"/>
<line x1="1074.34" y1="115.0" x2="1074.34" y2="154.6" stroke="#e6e6e6" stroke-width="0.6"/>
<line x1="1108.78" y1="31.5" x2="1108.78" y2="90.2" stroke="#e6e6e6" stroke-width="0.6"/>
<line x1="1108.78" y1="115.0" x2="1108.78" y2="154.6" stroke="#e6e6e6" stroke-width="0.6"/>
<line x1="1143.23" y1="31.5" x2="1143.23" y2="90.2" stroke="#e6e6e6" stroke-width="0.6"/>
<line x1="1143.23" y1="115.0" x2="1143.23" y2="154.6" stroke="#e6e6e6" stroke-width="0.6"/>
<line x1="1177.67" y1="31.5" x2="1177.67" y2="90.2" stroke="#e6e6e6" stroke-width="0.6"/>
<line x1="1177.67" y1="115.0" x2="1177.67" y2="154.6" stroke="#e6e6e6" stroke-width="0.6"/>
<line x1="1039.9" y1="90.2" x2="1195.2" y2="90.2" stroke="#d0d0d0" stroke-width="0.6"/>
<text transform="translate(1026.9,60.9) rotate(-90)" font-family="Liberation Serif, serif" font-size="5.8" fill="#222" text-anchor="middle" textLength="55.8" lengthAdjust="spacingAndGlyphs">Enrichment score (ES)</text>
<line x1="1042.00" y1="90.80" x2="1042.00" y2="110.80" stroke="#888888" stroke-width="0.9"/>
<line x1="1045.40" y1="90.80" x2="1045.40" y2="110.80" stroke="#888888" stroke-width="0.9"/>
<line x1="1049.40" y1="90.80" x2="1049.40" y2="110.80" stroke="#888888" stroke-width="0.9"/>
<line x1="1050.50" y1="90.80" x2="1050.50" y2="110.80" stroke="#888888" stroke-width="0.9"/>
<line x1="1051.10" y1="90.80" x2="1051.10" y2="110.80" stroke="#888888" stroke-width="0.9"/>
<line x1="1054.70" y1="90.80" x2="1054.70" y2="110.80" stroke="#888888" stroke-width="0.9"/>
<line x1="1056.20" y1="90.80" x2="1056.20" y2="110.80" stroke="#888888" stroke-width="0.9"/>
<line x1="1057.70" y1="90.80" x2="1057.70" y2="110.80" stroke="#888888" stroke-width="0.9"/>
<line x1="1059.50" y1="90.80" x2="1059.50" y2="110.80" stroke="#222" stroke-width="0.9"/>
<line x1="1064.60" y1="90.80" x2="1064.60" y2="110.80" stroke="#888888" stroke-width="0.9"/>
<line x1="1105.70" y1="90.80" x2="1105.70" y2="110.80" stroke="#888888" stroke-width="0.9"/>
<line x1="1110.00" y1="90.80" x2="1110.00" y2="110.80" stroke="#888888" stroke-width="0.9"/>
<line x1="1113.50" y1="90.80" x2="1113.50" y2="110.80" stroke="#888888" stroke-width="0.9"/>
<line x1="1113.70" y1="90.80" x2="1113.70" y2="110.80" stroke="#888888" stroke-width="0.9"/>
<line x1="1120.80" y1="90.80" x2="1120.80" y2="110.80" stroke="#888888" stroke-width="0.9"/>
<line x1="1126.70" y1="90.80" x2="1126.70" y2="110.80" stroke="#888888" stroke-width="0.9"/>
<line x1="1139.30" y1="90.80" x2="1139.30" y2="110.80" stroke="#888888" stroke-width="0.9"/>
<line x1="1142.10" y1="90.80" x2="1142.10" y2="110.80" stroke="#888888" stroke-width="0.9"/>
<line x1="1149.40" y1="90.80" x2="1149.40" y2="110.80" stroke="#888888" stroke-width="0.9"/>
<line x1="1154.40" y1="90.80" x2="1154.40" y2="110.80" stroke="#888888" stroke-width="0.9"/>
<line x1="1157.40" y1="90.80" x2="1157.40" y2="110.80" stroke="#888888" stroke-width="0.9"/>
<line x1="1158.60" y1="90.80" x2="1158.60" y2="110.80" stroke="#888888" stroke-width="0.9"/>
<line x1="1165.40" y1="90.80" x2="1165.40" y2="110.80" stroke="#888888" stroke-width="0.9"/>
<rect x="1039.90" y="110.80" width="7.60" height="4.20" fill="#ec2a2a"/>
<rect x="1047.31" y="110.80" width="28.64" height="4.20" fill="#f34040"/>
<rect x="1075.74" y="110.80" width="22.12" height="4.20" fill="#f66a74"/>
<rect x="1097.66" y="110.80" width="19.45" height="4.20" fill="#f7b4df"/>
<rect x="1116.91" y="110.80" width="15.60" height="4.20" fill="#d4d4fa"/>
<rect x="1132.31" y="110.80" width="11.46" height="4.20" fill="#c6c2f8"/>
<rect x="1143.57" y="110.80" width="12.05" height="4.20" fill="#8787f9"/>
<rect x="1155.42" y="110.80" width="23.45" height="4.20" fill="#6553ef"/>
<rect x="1178.67" y="110.80" width="9.53" height="4.20" fill="#2800d2"/>
<polygon points="1039.90,133.60 1039.90,124.67 1040.64,125.27 1041.38,125.86 1042.12,126.16 1042.86,126.46 1043.60,126.76 1044.34,127.05 1045.08,127.20 1045.82,127.35 1046.56,127.50 1047.31,127.65 1048.05,127.80 1048.79,127.95 1049.53,128.10 1050.27,128.25 1051.01,128.32 1051.75,128.39 1052.49,128.46 1053.23,128.54 1053.97,128.61 1054.71,128.68 1055.45,128.76 1056.19,128.83 1056.93,128.90 1057.67,128.98 1058.41,129.05 1059.15,129.12 1059.89,129.20 1060.63,129.27 1061.37,129.34 1062.12,129.42 1062.86,129.49 1063.60,129.56 1064.34,129.64 1065.08,129.71 1065.82,129.78 1066.56,129.86 1067.30,129.93 1068.04,130.00 1068.78,130.08 1069.52,130.15 1070.26,130.21 1071.00,130.27 1071.74,130.33 1072.48,130.39 1073.22,130.46 1073.96,130.52 1074.70,130.58 1075.44,130.64 1076.18,130.70 1076.93,130.76 1077.67,130.83 1078.41,130.89 1079.15,130.95 1079.89,131.01 1080.63,131.07 1081.37,131.13 1082.11,131.19 1082.85,131.26 1083.59,131.32 1084.33,131.38 1085.07,131.44 1085.81,131.50 1086.55,131.56 1087.29,131.62 1088.03,131.69 1088.77,131.75 1089.51,131.81 1090.25,131.87 1090.99,131.93 1091.74,131.99 1092.48,132.06 1093.22,132.13 1093.96,132.19 1094.70,132.26 1095.44,132.33 1096.18,132.40 1096.92,132.46 1097.66,132.53 1098.40,132.60 1099.14,132.66 1099.88,132.73 1100.62,132.80 1101.36,132.86 1102.10,132.93 1102.84,133.00 1103.58,133.06 1104.32,133.13 1105.06,133.20 1105.80,133.27 1106.55,133.33 1107.29,133.40 1108.03,133.47 1108.77,133.53 1109.51,133.60 1110.25,133.64 1110.99,133.68 1111.73,133.72 1112.47,133.76 1113.21,133.79 1113.95,133.83 1114.69,133.87 1115.43,133.91 1116.17,133.95 1116.91,133.99 1117.65,134.03 1118.39,134.07 1119.13,134.10 1119.87,134.14 1120.61,134.18 1121.36,134.22 1122.10,134.26 1122.84,134.30 1123.58,134.34 1124.32,134.38 1125.06,134.41 1125.80,134.45 1126.54,134.49 1127.28,134.53 1128.02,134.57 1128.76,134.61 1129.50,134.65 1130.24,134.69 1130.98,134.73 1131.72,134.76 1132.46,134.80 1133.20,134.84 1133.94,134.88 1134.68,134.92 1135.42,134.96 1136.16,135.00 1136.91,135.04 1137.65,135.07 1138.39,135.11 1139.13,135.15 1139.87,135.19 1140.61,135.23 1141.35,135.27 1142.09,135.31 1142.83,135.35 1143.57,135.38 1144.31,135.41 1145.05,135.44 1145.79,135.47 1146.53,135.50 1147.27,135.53 1148.01,135.56 1148.75,135.59 1149.49,135.62 1150.23,135.65 1150.97,135.68 1151.72,135.71 1152.46,135.74 1153.20,135.77 1153.94,135.80 1154.68,135.83 1155.42,135.86 1156.16,135.89 1156.90,135.92 1157.64,135.95 1158.38,135.98 1159.12,136.01 1159.86,136.04 1160.60,136.07 1161.34,136.10 1162.08,136.13 1162.82,136.16 1163.56,136.19 1164.30,136.22 1165.04,136.25 1165.79,136.28 1166.53,136.33 1167.27,136.39 1168.01,136.44 1168.75,136.50 1169.49,136.56 1170.23,136.61 1170.97,136.67 1171.71,136.72 1172.45,136.78 1173.19,136.84 1173.93,136.89 1174.67,136.95 1175.41,137.00 1176.15,137.06 1176.89,137.11 1177.63,137.17 1178.37,137.32 1179.11,137.47 1179.85,137.62 1180.60,137.76 1181.34,137.91 1182.08,138.06 1182.82,138.21 1183.56,138.36 1184.30,138.73 1185.04,139.10 1185.78,139.48 1186.52,139.85 1187.26,141.09 1187.41,141.34 1187.56,152.04 1188.00,152.04 1188.00,133.60" fill="#b4b4b4"/>
<line x1="1039.9" y1="133.60" x2="1195.2" y2="133.60" stroke="#c8c8c8" stroke-width="0.5"/>
<line x1="1109.64" y1="115.0" x2="1109.64" y2="154.6" stroke="#bbbbbb" stroke-width="0.5" stroke-dasharray="1,1"/>
<text x="1036.9" y="123.10" font-size="4.6" fill="#555" text-anchor="end">2</text>
<text x="1036.9" y="135.00" font-size="4.6" fill="#555" text-anchor="end">0</text>
<text x="1036.9" y="146.90" font-size="4.6" fill="#555" text-anchor="end">-2</text>
<text x="1040.9" y="118.60" font-size="3.4" fill="#e03030" textLength="47.4" lengthAdjust="spacingAndGlyphs">'Basal' (positively correlated)</text>
<text x="1094.6" y="135.60" font-size="3.6" fill="#333" textLength="29.6" lengthAdjust="spacingAndGlyphs">Zero cross at 10125</text>
<text x="1116.9" y="153.00" font-size="3.6" fill="#3030d0" textLength="53.3" lengthAdjust="spacingAndGlyphs">'Luminal' (negatively correlated)</text>
<text transform="translate(1031.2,134.8) rotate(-90)" font-size="5.2" fill="#333" text-anchor="middle" textLength="65" lengthAdjust="spacingAndGlyphs">Ranked list metric (Signal2Noise)</text>
<text x="1039.90" y="160.20" font-size="4.2" fill="#444" text-anchor="middle">0</text>
<text x="1074.34" y="160.20" font-size="4.2" fill="#444" text-anchor="middle">5,000</text>
<text x="1108.78" y="160.20" font-size="4.2" fill="#444" text-anchor="middle">10,000</text>
<text x="1143.23" y="160.20" font-size="4.2" fill="#444" text-anchor="middle">15,000</text>
<text x="1177.67" y="160.20" font-size="4.2" fill="#444" text-anchor="middle">20,000</text>
<text x="1117.55" y="167.00" font-size="5.2" fill="#333" text-anchor="middle" textLength="48.9" lengthAdjust="spacingAndGlyphs">Rank in Ordered Dataset</text>
<rect x="1047.8" y="171.6" width="121.40" height="8.40" fill="#ffffff" stroke="#7a7a7a" stroke-width="0.6"/>
<line x1="1049.30" y1="175.80" x2="1054.30" y2="175.80" stroke="#33e033" stroke-width="1.3"/>
<text x="1055.80" y="177.60" font-size="5" fill="#333" textLength="35.2" lengthAdjust="spacingAndGlyphs">Enrichment profile</text>
<line x1="1093.33" y1="175.80" x2="1097.57" y2="175.80" stroke="#555" stroke-width="0.6"/>
<text x="1100.00" y="177.60" font-size="5" fill="#333" textLength="8.5" lengthAdjust="spacingAndGlyphs">Hits</text>
<line x1="1115.78" y1="175.80" x2="1120.64" y2="175.80" stroke="#ccc" stroke-width="0.6"/>
<text x="1124.28" y="177.60" font-size="5" fill="#333" textLength="43.1" lengthAdjust="spacingAndGlyphs">Ranking metric scores</text>
<polyline points="1039.70,86.00 1041.00,87.70 1041.90,80.10 1042.70,72.50 1044.10,73.70 1045.20,60.80 1048.60,63.60 1050.80,57.90 1052.50,53.50 1054.80,55.70 1056.20,51.50 1057.00,48.20 1058.20,49.50 1059.50,41.40 1060.00,35.60 1062.60,37.70 1064.60,33.90 1096.00,52.90 1106.10,59.20 1119.00,67.20 1126.40,70.30 1138.20,77.10 1139.40,76.10 1140.60,76.80 1142.50,75.20 1149.30,79.50 1150.20,77.70 1153.90,80.10 1155.20,77.30 1157.30,78.50 1158.50,73.60 1159.10,73.10 1164.70,77.10 1165.50,73.10 1188.10,86.60" fill="none" stroke="#28f028" stroke-width="1.45" stroke-linejoin="round"/>
<text x="1050.3" y="80.2" font-family="Liberation Serif, serif" font-size="10.4" font-weight="bold" fill="#111" textLength="34.2" lengthAdjust="spacingAndGlyphs"><tspan font-style="italic">P</tspan>=0.004</text>
<rect x="628.3" y="196.3" width="182.40" height="182.70" fill="#f0f0f0"/>
<text x="719.5" y="203.2" font-size="6.9" font-weight="bold" fill="#1a1a1a" text-anchor="middle" textLength="51.7" lengthAdjust="spacingAndGlyphs">Enrichment plot:</text>
<text x="719.5" y="212.6" font-size="6.8" font-weight="bold" fill="#1a1a1a" text-anchor="middle" textLength="136.5" lengthAdjust="spacingAndGlyphs">GO_GPI_ANCHOR_METABOLIC_PROCESS</text>
<rect x="650.4" y="216.9" width="158.00" height="135.30" fill="#ffffff" stroke="#c8c8c8" stroke-width="0.6"/>
<line x1="650.4" y1="220.60" x2="808.4" y2="220.60" stroke="#ededed" stroke-width="0.6"/>
<text x="647.7" y="222.80" font-size="4.6" fill="#666" text-anchor="end">0.0</text>
<line x1="650.4" y1="229.85" x2="808.4" y2="229.85" stroke="#ededed" stroke-width="0.6"/>
<text x="647.7" y="232.05" font-size="4.6" fill="#666" text-anchor="end">-0.1</text>
<line x1="650.4" y1="239.10" x2="808.4" y2="239.10" stroke="#ededed" stroke-width="0.6"/>
<text x="647.7" y="241.30" font-size="4.6" fill="#666" text-anchor="end">-0.2</text>
<line x1="650.4" y1="248.35" x2="808.4" y2="248.35" stroke="#ededed" stroke-width="0.6"/>
<text x="647.7" y="250.55" font-size="4.6" fill="#666" text-anchor="end">-0.3</text>
<line x1="650.4" y1="257.60" x2="808.4" y2="257.60" stroke="#ededed" stroke-width="0.6"/>
<text x="647.7" y="259.80" font-size="4.6" fill="#666" text-anchor="end">-0.4</text>
<line x1="650.4" y1="266.85" x2="808.4" y2="266.85" stroke="#ededed" stroke-width="0.6"/>
<text x="647.7" y="269.05" font-size="4.6" fill="#666" text-anchor="end">-0.5</text>
<line x1="650.4" y1="276.10" x2="808.4" y2="276.10" stroke="#ededed" stroke-width="0.6"/>
<text x="647.7" y="278.30" font-size="4.6" fill="#666" text-anchor="end">-0.6</text>
<line x1="685.31" y1="216.9" x2="685.31" y2="281.5" stroke="#e6e6e6" stroke-width="0.6"/>
<line x1="685.31" y1="308.5" x2="685.31" y2="352.2" stroke="#e6e6e6" stroke-width="0.6"/>
<line x1="720.21" y1="216.9" x2="720.21" y2="281.5" stroke="#e6e6e6" stroke-width="0.6"/>
<line x1="720.21" y1="308.5" x2="720.21" y2="352.2" stroke="#e6e6e6" stroke-width="0.6"/>
<line x1="755.12" y1="216.9" x2="755.12" y2="281.5" stroke="#e6e6e6" stroke-width="0.6"/>
<line x1="755.12" y1="308.5" x2="755.12" y2="352.2" stroke="#e6e6e6" stroke-width="0.6"/>
<line x1="790.03" y1="216.9" x2="790.03" y2="281.5" stroke="#e6e6e6" stroke-width="0.6"/>
<line x1="790.03" y1="308.5" x2="790.03" y2="352.2" stroke="#e6e6e6" stroke-width="0.6"/>
<line x1="650.4" y1="281.5" x2="808.4" y2="281.5" stroke="#d0d0d0" stroke-width="0.6"/>
<text transform="translate(637.4,249.2) rotate(-90)" font-family="Liberation Serif, serif" font-size="5.8" fill="#222" text-anchor="middle" textLength="61.4" lengthAdjust="spacingAndGlyphs">Enrichment score (ES)</text>
<line x1="678.60" y1="282.10" x2="678.60" y2="303.40" stroke="#888888" stroke-width="0.9"/>
<line x1="685.30" y1="282.10" x2="685.30" y2="303.40" stroke="#888888" stroke-width="0.9"/>
<line x1="698.50" y1="282.10" x2="698.50" y2="303.40" stroke="#888888" stroke-width="0.9"/>
<line x1="704.50" y1="282.10" x2="704.50" y2="303.40" stroke="#888888" stroke-width="0.9"/>
<line x1="705.40" y1="282.10" x2="705.40" y2="303.40" stroke="#888888" stroke-width="0.9"/>
<line x1="709.80" y1="282.10" x2="709.80" y2="303.40" stroke="#888888" stroke-width="0.9"/>
<line x1="712.20" y1="282.10" x2="712.20" y2="303.40" stroke="#888888" stroke-width="0.9"/>
<line x1="728.40" y1="282.10" x2="728.40" y2="303.40" stroke="#888888" stroke-width="0.9"/>
<line x1="732.60" y1="282.10" x2="732.60" y2="303.40" stroke="#888888" stroke-width="0.9"/>
<line x1="736.40" y1="282.10" x2="736.40" y2="303.40" stroke="#888888" stroke-width="0.9"/>
<line x1="739.30" y1="282.10" x2="739.30" y2="303.40" stroke="#888888" stroke-width="0.9"/>
<line x1="747.50" y1="282.10" x2="747.50" y2="303.40" stroke="#888888" stroke-width="0.9"/>
<line x1="761.60" y1="282.10" x2="761.60" y2="303.40" stroke="#888888" stroke-width="0.9"/>
<line x1="765.60" y1="282.10" x2="765.60" y2="303.40" stroke="#888888" stroke-width="0.9"/>
<line x1="771.00" y1="282.10" x2="771.00" y2="303.40" stroke="#888888" stroke-width="0.9"/>
<line x1="775.00" y1="282.10" x2="775.00" y2="303.40" stroke="#888888" stroke-width="0.9"/>
<line x1="779.00" y1="282.10" x2="779.00" y2="303.40" stroke="#888888" stroke-width="0.9"/>
<line x1="783.50" y1="282.10" x2="783.50" y2="303.40" stroke="#888888" stroke-width="0.9"/>
<line x1="784.20" y1="282.10" x2="784.20" y2="303.40" stroke="#888888" stroke-width="0.9"/>
<line x1="789.30" y1="282.10" x2="789.30" y2="303.40" stroke="#888888" stroke-width="0.9"/>
<line x1="794.60" y1="282.10" x2="794.60" y2="303.40" stroke="#111" stroke-width="0.9"/>
<line x1="796.40" y1="282.10" x2="796.40" y2="303.40" stroke="#444" stroke-width="0.9"/>
<line x1="797.30" y1="282.10" x2="797.30" y2="303.40" stroke="#888888" stroke-width="0.9"/>
<line x1="800.20" y1="282.10" x2="800.20" y2="303.40" stroke="#aaa" stroke-width="0.9"/>
<rect x="650.40" y="303.40" width="7.71" height="5.10" fill="#ec2a2a"/>
<rect x="657.90" y="303.40" width="29.02" height="5.10" fill="#f34040"/>
<rect x="686.72" y="303.40" width="22.41" height="5.10" fill="#f66a74"/>
<rect x="708.94" y="303.40" width="19.71" height="5.10" fill="#f7b4df"/>
<rect x="728.45" y="303.40" width="15.81" height="5.10" fill="#d4d4fa"/>
<rect x="744.06" y="303.40" width="11.61" height="5.10" fill="#c6c2f8"/>
<rect x="755.47" y="303.40" width="12.21" height="5.10" fill="#8787f9"/>
<rect x="767.48" y="303.40" width="23.77" height="5.10" fill="#6553ef"/>
<rect x="791.04" y="303.40" width="9.66" height="5.10" fill="#2800d2"/>
<polygon points="650.40,329.10 650.40,319.20 651.15,320.03 651.90,320.85 652.65,321.18 653.40,321.51 654.15,321.84 654.90,322.17 655.65,322.34 656.40,322.50 657.15,322.67 657.90,322.83 658.66,323.00 659.41,323.16 660.16,323.33 660.91,323.49 661.66,323.58 662.41,323.67 663.16,323.76 663.91,323.85 664.66,323.93 665.41,324.02 666.16,324.11 666.91,324.20 667.66,324.29 668.41,324.38 669.16,324.47 669.91,324.56 670.66,324.65 671.41,324.73 672.16,324.82 672.91,324.91 673.67,325.00 674.42,325.09 675.17,325.18 675.92,325.27 676.67,325.36 677.42,325.44 678.17,325.53 678.92,325.62 679.67,325.71 680.42,325.80 681.17,325.86 681.92,325.92 682.67,325.98 683.42,326.05 684.17,326.11 684.92,326.17 685.67,326.23 686.42,326.29 687.17,326.35 687.92,326.42 688.68,326.48 689.43,326.54 690.18,326.60 690.93,326.66 691.68,326.72 692.43,326.79 693.18,326.85 693.93,326.91 694.68,326.97 695.43,327.03 696.18,327.09 696.93,327.16 697.68,327.22 698.43,327.28 699.18,327.34 699.93,327.40 700.68,327.46 701.43,327.52 702.18,327.59 702.93,327.65 703.69,327.71 704.44,327.77 705.19,327.83 705.94,327.89 706.69,327.95 707.44,328.01 708.19,328.07 708.94,328.13 709.69,328.19 710.44,328.25 711.19,328.31 711.94,328.37 712.69,328.43 713.44,328.50 714.19,328.56 714.94,328.62 715.69,328.68 716.44,328.74 717.19,328.80 717.94,328.86 718.70,328.92 719.45,328.98 720.20,329.04 720.95,329.10 721.70,329.14 722.45,329.17 723.20,329.21 723.95,329.24 724.70,329.28 725.45,329.32 726.20,329.35 726.95,329.39 727.70,329.42 728.45,329.46 729.20,329.49 729.95,329.53 730.70,329.57 731.45,329.60 732.20,329.64 732.96,329.67 733.71,329.71 734.46,329.75 735.21,329.78 735.96,329.82 736.71,329.85 737.46,329.89 738.21,329.93 738.96,329.96 739.71,330.00 740.46,330.03 741.21,330.07 741.96,330.10 742.71,330.14 743.46,330.18 744.21,330.21 744.96,330.25 745.71,330.28 746.46,330.32 747.21,330.36 747.97,330.39 748.72,330.43 749.47,330.46 750.22,330.50 750.97,330.53 751.72,330.57 752.47,330.61 753.22,330.64 753.97,330.68 754.72,330.71 755.47,330.75 756.22,330.78 756.97,330.82 757.72,330.85 758.47,330.88 759.22,330.92 759.97,330.95 760.72,330.98 761.47,331.01 762.22,331.05 762.98,331.08 763.73,331.11 764.48,331.15 765.23,331.18 765.98,331.21 766.73,331.25 767.48,331.28 768.23,331.31 768.98,331.34 769.73,331.38 770.48,331.41 771.23,331.44 771.98,331.48 772.73,331.51 773.48,331.54 774.23,331.58 774.98,331.61 775.73,331.64 776.48,331.67 777.23,331.71 777.99,331.74 778.74,331.78 779.49,331.82 780.24,331.86 780.99,331.91 781.74,331.95 782.49,331.99 783.24,332.03 783.99,332.07 784.74,332.11 785.49,332.15 786.24,332.19 786.99,332.24 787.74,332.28 788.49,332.32 789.24,332.36 789.99,332.40 790.74,332.56 791.49,332.73 792.24,332.90 793.00,333.06 793.75,333.23 794.50,333.39 795.25,333.56 796.00,333.72 796.75,334.22 797.50,334.71 798.25,335.21 799.00,335.70 799.75,337.19 799.90,337.48 800.05,337.78 800.50,338.67 800.50,329.10" fill="#b4b4b4"/>
<line x1="650.4" y1="329.10" x2="808.4" y2="329.10" stroke="#c8c8c8" stroke-width="0.5"/>
<line x1="721.09" y1="308.5" x2="721.09" y2="352.2" stroke="#bbbbbb" stroke-width="0.5" stroke-dasharray="1,1"/>
<text x="647.4" y="310.70" font-size="4.6" fill="#555" text-anchor="end">3</text>
<text x="647.4" y="317.30" font-size="4.6" fill="#555" text-anchor="end">2</text>
<text x="647.4" y="323.90" font-size="4.6" fill="#555" text-anchor="end">1</text>
<text x="647.4" y="330.50" font-size="4.6" fill="#555" text-anchor="end">0</text>
<text x="647.4" y="337.10" font-size="4.6" fill="#555" text-anchor="end">-1</text>
<text x="647.4" y="343.70" font-size="4.6" fill="#555" text-anchor="end">-2</text>
<text x="647.4" y="350.30" font-size="4.6" fill="#555" text-anchor="end">-3</text>
<text x="651.4" y="312.10" font-size="3.4" fill="#e03030" textLength="48.0" lengthAdjust="spacingAndGlyphs">'Basal' (positively correlated)</text>
<text x="706.1" y="331.10" font-size="3.6" fill="#333" textLength="30.0" lengthAdjust="spacingAndGlyphs">Zero cross at 10125</text>
<text x="728.5" y="350.60" font-size="3.6" fill="#3030d0" textLength="54.0" lengthAdjust="spacingAndGlyphs">'Luminal' (negatively correlated)</text>
<text transform="translate(641.7,330.4) rotate(-90)" font-size="5.2" fill="#333" text-anchor="middle" textLength="65" lengthAdjust="spacingAndGlyphs">Ranked list metric (Signal2Noise)</text>
<text x="650.40" y="358.40" font-size="4.2" fill="#444" text-anchor="middle">0</text>
<text x="685.31" y="358.40" font-size="4.2" fill="#444" text-anchor="middle">5,000</text>
<text x="720.21" y="358.40" font-size="4.2" fill="#444" text-anchor="middle">10,000</text>
<text x="755.12" y="358.40" font-size="4.2" fill="#444" text-anchor="middle">15,000</text>
<text x="790.03" y="358.40" font-size="4.2" fill="#444" text-anchor="middle">20,000</text>
<text x="729.40" y="365.20" font-size="5.2" fill="#333" text-anchor="middle" textLength="49.5" lengthAdjust="spacingAndGlyphs">Rank in Ordered Dataset</text>
<rect x="657.6" y="369.6" width="123.60" height="9.00" fill="#ffffff" stroke="#7a7a7a" stroke-width="0.6"/>
<line x1="659.10" y1="374.10" x2="664.10" y2="374.10" stroke="#33e033" stroke-width="1.3"/>
<text x="665.60" y="375.90" font-size="5" fill="#333" textLength="35.8" lengthAdjust="spacingAndGlyphs">Enrichment profile</text>
<line x1="703.95" y1="374.10" x2="708.28" y2="374.10" stroke="#555" stroke-width="0.6"/>
<text x="710.75" y="375.90" font-size="5" fill="#333" textLength="8.7" lengthAdjust="spacingAndGlyphs">Hits</text>
<line x1="726.82" y1="374.10" x2="731.76" y2="374.10" stroke="#ccc" stroke-width="0.6"/>
<text x="735.47" y="375.90" font-size="5" fill="#333" textLength="43.9" lengthAdjust="spacingAndGlyphs">Ranking metric scores</text>
<polyline points="650.20,220.50 677.80,237.40 678.90,235.20 684.70,238.90 686.20,237.40 697.20,244.40 698.50,243.50 703.10,246.60 705.30,245.90 710.50,248.40 713.90,249.70 729.70,259.90 735.60,263.20 740.90,265.50 746.80,268.90 748.10,268.50 760.50,276.70 761.90,275.40 763.20,277.30 765.10,275.70 768.30,277.60 769.60,276.40 772.00,278.40 773.50,276.50 775.70,274.60 777.20,273.30 778.40,275.20 780.30,272.80 782.10,274.10 784.00,265.50 788.50,268.20 790.00,260.90 791.80,261.80 793.10,258.10 795.00,244.40 795.90,235.60 797.30,231.10 797.70,226.40 799.50,226.90 800.50,220.30" fill="none" stroke="#28f028" stroke-width="1.45" stroke-linejoin="round"/>
<text x="662.0" y="266.3" font-family="Liberation Serif, serif" font-size="10.4" font-weight="bold" fill="#111" textLength="36.7" lengthAdjust="spacingAndGlyphs"><tspan font-style="italic">P</tspan>= 0.017</text>
<rect x="830.5" y="196.3" width="178.70" height="178.90" fill="#f0f0f0"/>
<text x="919.9" y="203.2" font-size="6.9" font-weight="bold" fill="#1a1a1a" text-anchor="middle" textLength="51.7" lengthAdjust="spacingAndGlyphs">Enrichment plot:</text>
<text x="919.9" y="212.6" font-size="6.8" font-weight="bold" fill="#1a1a1a" text-anchor="middle" textLength="135.0" lengthAdjust="spacingAndGlyphs">GO_COENZYME_A_METABOLIC_PROCESS</text>
<rect x="852.4" y="216.9" width="154.30" height="132.40" fill="#ffffff" stroke="#c8c8c8" stroke-width="0.6"/>
<line x1="852.4" y1="220.70" x2="1006.7" y2="220.70" stroke="#ededed" stroke-width="0.6"/>
<text x="849.7" y="222.90" font-size="4.6" fill="#666" text-anchor="end">0.0</text>
<line x1="852.4" y1="229.55" x2="1006.7" y2="229.55" stroke="#ededed" stroke-width="0.6"/>
<text x="849.7" y="231.75" font-size="4.6" fill="#666" text-anchor="end">-0.1</text>
<line x1="852.4" y1="238.40" x2="1006.7" y2="238.40" stroke="#ededed" stroke-width="0.6"/>
<text x="849.7" y="240.60" font-size="4.6" fill="#666" text-anchor="end">-0.2</text>
<line x1="852.4" y1="247.25" x2="1006.7" y2="247.25" stroke="#ededed" stroke-width="0.6"/>
<text x="849.7" y="249.45" font-size="4.6" fill="#666" text-anchor="end">-0.3</text>
<line x1="852.4" y1="256.10" x2="1006.7" y2="256.10" stroke="#ededed" stroke-width="0.6"/>
<text x="849.7" y="258.30" font-size="4.6" fill="#666" text-anchor="end">-0.4</text>
<line x1="852.4" y1="264.95" x2="1006.7" y2="264.95" stroke="#ededed" stroke-width="0.6"/>
<text x="849.7" y="267.15" font-size="4.6" fill="#666" text-anchor="end">-0.5</text>
<line x1="852.4" y1="273.80" x2="1006.7" y2="273.80" stroke="#ededed" stroke-width="0.6"/>
<text x="849.7" y="276.00" font-size="4.6" fill="#666" text-anchor="end">-0.6</text>
<line x1="886.54" y1="216.9" x2="886.54" y2="280.0" stroke="#e6e6e6" stroke-width="0.6"/>
<line x1="886.54" y1="306.4" x2="886.54" y2="349.3" stroke="#e6e6e6" stroke-width="0.6"/>
<line x1="920.68" y1="216.9" x2="920.68" y2="280.0" stroke="#e6e6e6" stroke-width="0.6"/>
<line x1="920.68" y1="306.4" x2="920.68" y2="349.3" stroke="#e6e6e6" stroke-width="0.6"/>
<line x1="954.82" y1="216.9" x2="954.82" y2="280.0" stroke="#e6e6e6" stroke-width="0.6"/>
<line x1="954.82" y1="306.4" x2="954.82" y2="349.3" stroke="#e6e6e6" stroke-width="0.6"/>
<line x1="988.96" y1="216.9" x2="988.96" y2="280.0" stroke="#e6e6e6" stroke-width="0.6"/>
<line x1="988.96" y1="306.4" x2="988.96" y2="349.3" stroke="#e6e6e6" stroke-width="0.6"/>
<line x1="852.4" y1="280.0" x2="1006.7" y2="280.0" stroke="#d0d0d0" stroke-width="0.6"/>
<text transform="translate(839.4,248.4) rotate(-90)" font-family="Liberation Serif, serif" font-size="5.8" fill="#222" text-anchor="middle" textLength="59.9" lengthAdjust="spacingAndGlyphs">Enrichment score (ES)</text>
<line x1="863.10" y1="280.60" x2="863.10" y2="301.40" stroke="#888888" stroke-width="0.9"/>
<line x1="881.50" y1="280.60" x2="881.50" y2="301.40" stroke="#888888" stroke-width="0.9"/>
<line x1="900.60" y1="280.60" x2="900.60" y2="301.40" stroke="#888888" stroke-width="0.9"/>
<line x1="933.30" y1="280.60" x2="933.30" y2="301.40" stroke="#888888" stroke-width="0.9"/>
<line x1="972.80" y1="280.60" x2="972.80" y2="301.40" stroke="#888" stroke-width="0.9"/>
<line x1="973.60" y1="280.60" x2="973.60" y2="301.40" stroke="#777" stroke-width="0.9"/>
<line x1="974.40" y1="280.60" x2="974.40" y2="301.40" stroke="#666" stroke-width="0.9"/>
<line x1="975.20" y1="280.60" x2="975.20" y2="301.40" stroke="#777" stroke-width="0.9"/>
<line x1="976.00" y1="280.60" x2="976.00" y2="301.40" stroke="#888" stroke-width="0.9"/>
<line x1="976.90" y1="280.60" x2="976.90" y2="301.40" stroke="#888" stroke-width="0.9"/>
<line x1="978.20" y1="280.60" x2="978.20" y2="301.40" stroke="#999" stroke-width="0.9"/>
<line x1="979.00" y1="280.60" x2="979.00" y2="301.40" stroke="#888" stroke-width="0.9"/>
<line x1="980.00" y1="280.60" x2="980.00" y2="301.40" stroke="#999" stroke-width="0.9"/>
<line x1="980.80" y1="280.60" x2="980.80" y2="301.40" stroke="#999" stroke-width="0.9"/>
<line x1="989.00" y1="280.60" x2="989.00" y2="301.40" stroke="#888888" stroke-width="0.9"/>
<line x1="995.40" y1="280.60" x2="995.40" y2="301.40" stroke="#888888" stroke-width="0.9"/>
<line x1="998.10" y1="280.60" x2="998.10" y2="301.40" stroke="#999" stroke-width="0.9"/>
<rect x="852.40" y="301.40" width="7.54" height="5.00" fill="#ec2a2a"/>
<rect x="859.74" y="301.40" width="28.39" height="5.00" fill="#f34040"/>
<rect x="887.93" y="301.40" width="21.93" height="5.00" fill="#f66a74"/>
<rect x="909.65" y="301.40" width="19.28" height="5.00" fill="#f7b4df"/>
<rect x="928.74" y="301.40" width="15.47" height="5.00" fill="#d4d4fa"/>
<rect x="944.00" y="301.40" width="11.36" height="5.00" fill="#c6c2f8"/>
<rect x="955.16" y="301.40" width="11.94" height="5.00" fill="#8787f9"/>
<rect x="966.90" y="301.40" width="23.25" height="5.00" fill="#6553ef"/>
<rect x="989.95" y="301.40" width="9.45" height="5.00" fill="#2800d2"/>
<polygon points="852.40,327.00 852.40,317.40 853.13,318.20 853.87,319.00 854.60,319.32 855.34,319.64 856.07,319.96 856.80,320.28 857.54,320.44 858.27,320.60 859.01,320.76 859.74,320.92 860.47,321.08 861.21,321.24 861.94,321.40 862.68,321.56 863.41,321.65 864.14,321.73 864.88,321.82 865.61,321.90 866.35,321.99 867.08,322.08 867.81,322.16 868.55,322.25 869.28,322.34 870.02,322.42 870.75,322.51 871.48,322.59 872.22,322.68 872.95,322.77 873.69,322.85 874.42,322.94 875.15,323.02 875.89,323.11 876.62,323.20 877.36,323.28 878.09,323.37 878.82,323.46 879.56,323.54 880.29,323.63 881.03,323.71 881.76,323.80 882.49,323.86 883.23,323.92 883.96,323.98 884.70,324.04 885.43,324.10 886.16,324.16 886.90,324.22 887.63,324.28 888.37,324.34 889.10,324.40 889.83,324.46 890.57,324.52 891.30,324.58 892.04,324.64 892.77,324.70 893.50,324.76 894.24,324.82 894.97,324.88 895.71,324.93 896.44,324.99 897.17,325.05 897.91,325.11 898.64,325.17 899.38,325.23 900.11,325.29 900.84,325.35 901.58,325.41 902.31,325.47 903.05,325.53 903.78,325.59 904.51,325.65 905.25,325.71 905.98,325.77 906.72,325.83 907.45,325.89 908.18,325.94 908.92,326.00 909.65,326.06 910.39,326.12 911.12,326.18 911.85,326.24 912.59,326.30 913.32,326.35 914.06,326.41 914.79,326.47 915.52,326.53 916.26,326.59 916.99,326.65 917.73,326.71 918.46,326.77 919.19,326.82 919.93,326.88 920.66,326.94 921.40,327.00 922.13,327.03 922.86,327.07 923.60,327.10 924.33,327.14 925.07,327.17 925.80,327.21 926.53,327.24 927.27,327.28 928.00,327.31 928.74,327.35 929.47,327.38 930.20,327.42 930.94,327.45 931.67,327.49 932.41,327.52 933.14,327.56 933.87,327.59 934.61,327.63 935.34,327.66 936.08,327.70 936.81,327.73 937.54,327.77 938.28,327.80 939.01,327.83 939.75,327.87 940.48,327.90 941.21,327.94 941.95,327.97 942.68,328.01 943.42,328.04 944.15,328.08 944.88,328.11 945.62,328.15 946.35,328.18 947.09,328.22 947.82,328.25 948.55,328.29 949.29,328.32 950.02,328.36 950.76,328.39 951.49,328.43 952.22,328.46 952.96,328.50 953.69,328.53 954.43,328.57 955.16,328.60 955.89,328.63 956.63,328.66 957.36,328.70 958.10,328.73 958.83,328.76 959.56,328.79 960.30,328.82 961.03,328.86 961.77,328.89 962.50,328.92 963.23,328.95 963.97,328.98 964.70,329.02 965.44,329.05 966.17,329.08 966.90,329.11 967.64,329.14 968.37,329.18 969.11,329.21 969.84,329.24 970.57,329.27 971.31,329.30 972.04,329.34 972.78,329.37 973.51,329.40 974.24,329.43 974.98,329.46 975.71,329.50 976.45,329.53 977.18,329.56 977.91,329.60 978.65,329.64 979.38,329.68 980.12,329.72 980.85,329.76 981.58,329.80 982.32,329.84 983.05,329.88 983.79,329.92 984.52,329.96 985.25,330.00 985.99,330.04 986.72,330.08 987.46,330.12 988.19,330.16 988.92,330.20 989.66,330.36 990.39,330.52 991.13,330.68 991.86,330.84 992.59,331.00 993.33,331.16 994.06,331.32 994.80,331.48 995.53,331.96 996.26,332.44 997.00,332.92 997.73,333.40 998.47,334.84 998.61,335.13 998.76,335.42 999.20,336.28 999.20,327.00" fill="#b4b4b4"/>
<line x1="852.4" y1="327.00" x2="1006.7" y2="327.00" stroke="#c8c8c8" stroke-width="0.5"/>
<line x1="921.53" y1="306.4" x2="921.53" y2="349.3" stroke="#bbbbbb" stroke-width="0.5" stroke-dasharray="1,1"/>
<text x="849.4" y="309.20" font-size="4.6" fill="#555" text-anchor="end">3</text>
<text x="849.4" y="315.60" font-size="4.6" fill="#555" text-anchor="end">2</text>
<text x="849.4" y="322.00" font-size="4.6" fill="#555" text-anchor="end">1</text>
<text x="849.4" y="328.40" font-size="4.6" fill="#555" text-anchor="end">0</text>
<text x="849.4" y="334.80" font-size="4.6" fill="#555" text-anchor="end">-1</text>
<text x="849.4" y="341.20" font-size="4.6" fill="#555" text-anchor="end">-2</text>
<text x="849.4" y="347.60" font-size="4.6" fill="#555" text-anchor="end">-3</text>
<text x="853.4" y="310.00" font-size="3.4" fill="#e03030" textLength="47.0" lengthAdjust="spacingAndGlyphs">'Basal' (positively correlated)</text>
<text x="906.5" y="329.00" font-size="3.6" fill="#333" textLength="29.4" lengthAdjust="spacingAndGlyphs">Zero cross at 10125</text>
<text x="928.7" y="347.70" font-size="3.6" fill="#3030d0" textLength="52.8" lengthAdjust="spacingAndGlyphs">'Luminal' (negatively correlated)</text>
<text transform="translate(843.7,327.9) rotate(-90)" font-size="5.2" fill="#333" text-anchor="middle" textLength="65" lengthAdjust="spacingAndGlyphs">Ranked list metric (Signal2Noise)</text>
<text x="852.40" y="355.50" font-size="4.2" fill="#444" text-anchor="middle">0</text>
<text x="886.54" y="355.50" font-size="4.2" fill="#444" text-anchor="middle">5,000</text>
<text x="920.68" y="355.50" font-size="4.2" fill="#444" text-anchor="middle">10,000</text>
<text x="954.82" y="355.50" font-size="4.2" fill="#444" text-anchor="middle">15,000</text>
<text x="988.96" y="355.50" font-size="4.2" fill="#444" text-anchor="middle">20,000</text>
<text x="929.55" y="362.30" font-size="5.2" fill="#333" text-anchor="middle" textLength="48.4" lengthAdjust="spacingAndGlyphs">Rank in Ordered Dataset</text>
<rect x="859.4" y="366.2" width="120.90" height="8.20" fill="#ffffff" stroke="#7a7a7a" stroke-width="0.6"/>
<line x1="860.90" y1="370.30" x2="865.90" y2="370.30" stroke="#33e033" stroke-width="1.3"/>
<text x="867.40" y="372.10" font-size="5" fill="#333" textLength="35.1" lengthAdjust="spacingAndGlyphs">Enrichment profile</text>
<line x1="904.74" y1="370.30" x2="908.97" y2="370.30" stroke="#555" stroke-width="0.6"/>
<text x="911.39" y="372.10" font-size="5" fill="#333" textLength="8.5" lengthAdjust="spacingAndGlyphs">Hits</text>
<line x1="927.10" y1="370.30" x2="931.94" y2="370.30" stroke="#ccc" stroke-width="0.6"/>
<text x="935.57" y="372.10" font-size="5" fill="#333" textLength="42.9" lengthAdjust="spacingAndGlyphs">Ranking metric scores</text>
<polyline points="852.40,220.50 863.20,226.80 863.60,219.50 881.30,230.40 881.70,225.90 900.20,236.90 900.80,234.10 930.00,252.20 933.30,253.60 972.70,277.10 973.70,272.80 975.50,263.60 976.80,253.90 978.20,253.20 979.20,249.00 980.10,244.40 981.00,238.90 988.90,244.00 989.60,236.70 995.70,240.30 996.20,231.20 997.50,231.20 998.40,220.30" fill="none" stroke="#28f028" stroke-width="1.45" stroke-linejoin="round"/>
<text x="862.0" y="266.0" font-family="Liberation Serif, serif" font-size="10.4" font-weight="bold" fill="#111" textLength="34.6" lengthAdjust="spacingAndGlyphs"><tspan font-style="italic">P</tspan>=0.028</text>
<rect x="1019.4" y="196.5" width="178.50" height="178.50" fill="#f0f0f0"/>
<text x="1108.9" y="203.2" font-size="6.9" font-weight="bold" fill="#1a1a1a" text-anchor="middle" textLength="51.7" lengthAdjust="spacingAndGlyphs">Enrichment plot:</text>
<text x="1108.9" y="212.6" font-size="6.8" font-weight="bold" fill="#1a1a1a" text-anchor="middle" textLength="125.5" lengthAdjust="spacingAndGlyphs">GO_ESTROGEN_METABOLIC_PROCESS</text>
<rect x="1040.9" y="216.9" width="154.10" height="131.80" fill="#ffffff" stroke="#c8c8c8" stroke-width="0.6"/>
<line x1="1040.9" y1="220.10" x2="1195.0" y2="220.10" stroke="#ededed" stroke-width="0.6"/>
<text x="1038.2" y="222.30" font-size="4.6" fill="#666" text-anchor="end">0.0</text>
<line x1="1040.9" y1="231.48" x2="1195.0" y2="231.48" stroke="#ededed" stroke-width="0.6"/>
<text x="1038.2" y="233.68" font-size="4.6" fill="#666" text-anchor="end">-0.1</text>
<line x1="1040.9" y1="242.86" x2="1195.0" y2="242.86" stroke="#ededed" stroke-width="0.6"/>
<text x="1038.2" y="245.06" font-size="4.6" fill="#666" text-anchor="end">-0.2</text>
<line x1="1040.9" y1="254.24" x2="1195.0" y2="254.24" stroke="#ededed" stroke-width="0.6"/>
<text x="1038.2" y="256.44" font-size="4.6" fill="#666" text-anchor="end">-0.3</text>
<line x1="1040.9" y1="265.62" x2="1195.0" y2="265.62" stroke="#ededed" stroke-width="0.6"/>
<text x="1038.2" y="267.82" font-size="4.6" fill="#666" text-anchor="end">-0.4</text>
<line x1="1040.9" y1="277.00" x2="1195.0" y2="277.00" stroke="#ededed" stroke-width="0.6"/>
<text x="1038.2" y="279.20" font-size="4.6" fill="#666" text-anchor="end">-0.5</text>
<line x1="1075.06" y1="216.9" x2="1075.06" y2="280.1" stroke="#e6e6e6" stroke-width="0.6"/>
<line x1="1075.06" y1="306.4" x2="1075.06" y2="348.7" stroke="#e6e6e6" stroke-width="0.6"/>
<line x1="1109.23" y1="216.9" x2="1109.23" y2="280.1" stroke="#e6e6e6" stroke-width="0.6"/>
<line x1="1109.23" y1="306.4" x2="1109.23" y2="348.7" stroke="#e6e6e6" stroke-width="0.6"/>
<line x1="1143.39" y1="216.9" x2="1143.39" y2="280.1" stroke="#e6e6e6" stroke-width="0.6"/>
<line x1="1143.39" y1="306.4" x2="1143.39" y2="348.7" stroke="#e6e6e6" stroke-width="0.6"/>
<line x1="1177.55" y1="216.9" x2="1177.55" y2="280.1" stroke="#e6e6e6" stroke-width="0.6"/>
<line x1="1177.55" y1="306.4" x2="1177.55" y2="348.7" stroke="#e6e6e6" stroke-width="0.6"/>
<line x1="1040.9" y1="280.1" x2="1195.0" y2="280.1" stroke="#d0d0d0" stroke-width="0.6"/>
<text transform="translate(1027.9,248.5) rotate(-90)" font-family="Liberation Serif, serif" font-size="5.8" fill="#222" text-anchor="middle" textLength="60.0" lengthAdjust="spacingAndGlyphs">Enrichment score (ES)</text>
<line x1="1048.40" y1="280.70" x2="1048.40" y2="301.40" stroke="#888888" stroke-width="0.9"/>
<line x1="1061.60" y1="280.70" x2="1061.60" y2="301.40" stroke="#888888" stroke-width="0.9"/>
<line x1="1062.70" y1="280.70" x2="1062.70" y2="301.40" stroke="#888888" stroke-width="0.9"/>
<line x1="1069.50" y1="280.70" x2="1069.50" y2="301.40" stroke="#888888" stroke-width="0.9"/>
<line x1="1073.80" y1="280.70" x2="1073.80" y2="301.40" stroke="#888888" stroke-width="0.9"/>
<line x1="1075.10" y1="280.70" x2="1075.10" y2="301.40" stroke="#888888" stroke-width="0.9"/>
<line x1="1077.80" y1="280.70" x2="1077.80" y2="301.40" stroke="#888888" stroke-width="0.9"/>
<line x1="1085.90" y1="280.70" x2="1085.90" y2="301.40" stroke="#888888" stroke-width="0.9"/>
<line x1="1107.80" y1="280.70" x2="1107.80" y2="301.40" stroke="#333" stroke-width="0.9"/>
<line x1="1129.80" y1="280.70" x2="1129.80" y2="301.40" stroke="#888888" stroke-width="0.9"/>
<line x1="1135.20" y1="280.70" x2="1135.20" y2="301.40" stroke="#888888" stroke-width="0.9"/>
<line x1="1136.50" y1="280.70" x2="1136.50" y2="301.40" stroke="#888888" stroke-width="0.9"/>
<line x1="1141.90" y1="280.70" x2="1141.90" y2="301.40" stroke="#888888" stroke-width="0.9"/>
<line x1="1154.10" y1="280.70" x2="1154.10" y2="301.40" stroke="#888888" stroke-width="0.9"/>
<line x1="1158.50" y1="280.70" x2="1158.50" y2="301.40" stroke="#888888" stroke-width="0.9"/>
<line x1="1170.30" y1="280.70" x2="1170.30" y2="301.40" stroke="#333" stroke-width="0.9"/>
<line x1="1173.70" y1="280.70" x2="1173.70" y2="301.40" stroke="#888888" stroke-width="0.9"/>
<line x1="1175.00" y1="280.70" x2="1175.00" y2="301.40" stroke="#888888" stroke-width="0.9"/>
<line x1="1180.10" y1="280.70" x2="1180.10" y2="301.40" stroke="#888888" stroke-width="0.9"/>
<line x1="1183.40" y1="280.70" x2="1183.40" y2="301.40" stroke="#888888" stroke-width="0.9"/>
<line x1="1187.10" y1="280.70" x2="1187.10" y2="301.40" stroke="#222" stroke-width="0.9"/>
<rect x="1040.90" y="301.40" width="7.54" height="5.00" fill="#ec2a2a"/>
<rect x="1048.25" y="301.40" width="28.40" height="5.00" fill="#f34040"/>
<rect x="1076.45" y="301.40" width="21.94" height="5.00" fill="#f66a74"/>
<rect x="1098.19" y="301.40" width="19.30" height="5.00" fill="#f7b4df"/>
<rect x="1117.29" y="301.40" width="15.48" height="5.00" fill="#d4d4fa"/>
<rect x="1132.57" y="301.40" width="11.36" height="5.00" fill="#c6c2f8"/>
<rect x="1143.73" y="301.40" width="11.95" height="5.00" fill="#8787f9"/>
<rect x="1155.48" y="301.40" width="23.26" height="5.00" fill="#6553ef"/>
<rect x="1178.55" y="301.40" width="9.45" height="5.00" fill="#2800d2"/>
<polygon points="1040.90,326.80 1040.90,317.20 1041.63,318.00 1042.37,318.80 1043.10,319.12 1043.84,319.44 1044.57,319.76 1045.31,320.08 1046.04,320.24 1046.78,320.40 1047.51,320.56 1048.25,320.72 1048.98,320.88 1049.71,321.04 1050.45,321.20 1051.18,321.36 1051.92,321.45 1052.65,321.53 1053.39,321.62 1054.12,321.70 1054.86,321.79 1055.59,321.88 1056.32,321.96 1057.06,322.05 1057.79,322.14 1058.53,322.22 1059.26,322.31 1060.00,322.39 1060.73,322.48 1061.47,322.57 1062.20,322.65 1062.94,322.74 1063.67,322.82 1064.40,322.91 1065.14,323.00 1065.87,323.08 1066.61,323.17 1067.34,323.26 1068.08,323.34 1068.81,323.43 1069.55,323.51 1070.28,323.60 1071.01,323.66 1071.75,323.72 1072.48,323.78 1073.22,323.84 1073.95,323.90 1074.69,323.96 1075.42,324.02 1076.16,324.08 1076.89,324.14 1077.62,324.20 1078.36,324.26 1079.09,324.32 1079.83,324.38 1080.56,324.44 1081.30,324.50 1082.03,324.56 1082.77,324.62 1083.50,324.68 1084.24,324.73 1084.97,324.79 1085.70,324.85 1086.44,324.91 1087.17,324.97 1087.91,325.03 1088.64,325.09 1089.38,325.15 1090.11,325.21 1090.85,325.27 1091.58,325.33 1092.32,325.39 1093.05,325.45 1093.78,325.51 1094.52,325.57 1095.25,325.63 1095.99,325.69 1096.72,325.74 1097.46,325.80 1098.19,325.86 1098.93,325.92 1099.66,325.98 1100.39,326.04 1101.13,326.10 1101.86,326.15 1102.60,326.21 1103.33,326.27 1104.07,326.33 1104.80,326.39 1105.54,326.45 1106.27,326.51 1107.01,326.57 1107.74,326.62 1108.47,326.68 1109.21,326.74 1109.94,326.80 1110.68,326.83 1111.41,326.87 1112.15,326.90 1112.88,326.94 1113.62,326.97 1114.35,327.01 1115.08,327.04 1115.82,327.08 1116.55,327.11 1117.29,327.15 1118.02,327.18 1118.76,327.22 1119.49,327.25 1120.23,327.29 1120.96,327.32 1121.69,327.36 1122.43,327.39 1123.16,327.43 1123.90,327.46 1124.63,327.50 1125.37,327.53 1126.10,327.57 1126.84,327.60 1127.57,327.63 1128.31,327.67 1129.04,327.70 1129.77,327.74 1130.51,327.77 1131.24,327.81 1131.98,327.84 1132.71,327.88 1133.45,327.91 1134.18,327.95 1134.92,327.98 1135.65,328.02 1136.38,328.05 1137.12,328.09 1137.85,328.12 1138.59,328.16 1139.32,328.19 1140.06,328.23 1140.79,328.26 1141.53,328.30 1142.26,328.33 1143.00,328.37 1143.73,328.40 1144.46,328.43 1145.20,328.46 1145.93,328.50 1146.67,328.53 1147.40,328.56 1148.14,328.59 1148.87,328.62 1149.61,328.66 1150.34,328.69 1151.08,328.72 1151.81,328.75 1152.54,328.78 1153.28,328.82 1154.01,328.85 1154.75,328.88 1155.48,328.91 1156.22,328.94 1156.95,328.98 1157.69,329.01 1158.42,329.04 1159.15,329.07 1159.89,329.10 1160.62,329.14 1161.36,329.17 1162.09,329.20 1162.83,329.23 1163.56,329.26 1164.30,329.30 1165.03,329.33 1165.76,329.36 1166.50,329.40 1167.23,329.44 1167.97,329.48 1168.70,329.52 1169.44,329.56 1170.17,329.60 1170.91,329.64 1171.64,329.68 1172.38,329.72 1173.11,329.76 1173.84,329.80 1174.58,329.84 1175.31,329.88 1176.05,329.92 1176.78,329.96 1177.52,330.00 1178.25,330.16 1178.99,330.32 1179.72,330.48 1180.45,330.64 1181.19,330.80 1181.92,330.96 1182.66,331.12 1183.39,331.28 1184.13,331.76 1184.86,332.24 1185.60,332.72 1186.33,333.20 1187.07,334.64 1187.21,334.93 1187.36,335.22 1187.80,336.08 1187.80,326.80" fill="#b4b4b4"/>
<line x1="1040.9" y1="326.80" x2="1195.0" y2="326.80" stroke="#c8c8c8" stroke-width="0.5"/>
<line x1="1110.08" y1="306.4" x2="1110.08" y2="348.7" stroke="#bbbbbb" stroke-width="0.5" stroke-dasharray="1,1"/>
<text x="1037.9" y="309.00" font-size="4.6" fill="#555" text-anchor="end">3</text>
<text x="1037.9" y="315.40" font-size="4.6" fill="#555" text-anchor="end">2</text>
<text x="1037.9" y="321.80" font-size="4.6" fill="#555" text-anchor="end">1</text>
<text x="1037.9" y="328.20" font-size="4.6" fill="#555" text-anchor="end">0</text>
<text x="1037.9" y="334.60" font-size="4.6" fill="#555" text-anchor="end">-1</text>
<text x="1037.9" y="341.00" font-size="4.6" fill="#555" text-anchor="end">-2</text>
<text x="1037.9" y="347.40" font-size="4.6" fill="#555" text-anchor="end">-3</text>
<text x="1041.9" y="310.00" font-size="3.4" fill="#e03030" textLength="47.0" lengthAdjust="spacingAndGlyphs">'Basal' (positively correlated)</text>
<text x="1095.1" y="328.80" font-size="3.6" fill="#333" textLength="29.4" lengthAdjust="spacingAndGlyphs">Zero cross at 10125</text>
<text x="1117.3" y="347.10" font-size="3.6" fill="#3030d0" textLength="52.9" lengthAdjust="spacingAndGlyphs">'Luminal' (negatively correlated)</text>
<text transform="translate(1032.2,327.5) rotate(-90)" font-size="5.2" fill="#333" text-anchor="middle" textLength="65" lengthAdjust="spacingAndGlyphs">Ranked list metric (Signal2Noise)</text>
<text x="1040.90" y="354.90" font-size="4.2" fill="#444" text-anchor="middle">0</text>
<text x="1075.06" y="354.90" font-size="4.2" fill="#444" text-anchor="middle">5,000</text>
<text x="1109.23" y="354.90" font-size="4.2" fill="#444" text-anchor="middle">10,000</text>
<text x="1143.39" y="354.90" font-size="4.2" fill="#444" text-anchor="middle">15,000</text>
<text x="1177.55" y="354.90" font-size="4.2" fill="#444" text-anchor="middle">20,000</text>
<text x="1117.95" y="361.70" font-size="5.2" fill="#333" text-anchor="middle" textLength="48.5" lengthAdjust="spacingAndGlyphs">Rank in Ordered Dataset</text>
<rect x="1047.9" y="366.2" width="121.00" height="8.20" fill="#ffffff" stroke="#7a7a7a" stroke-width="0.6"/>
<line x1="1049.40" y1="370.30" x2="1054.40" y2="370.30" stroke="#33e033" stroke-width="1.3"/>
<text x="1055.90" y="372.10" font-size="5" fill="#333" textLength="35.1" lengthAdjust="spacingAndGlyphs">Enrichment profile</text>
<line x1="1093.28" y1="370.30" x2="1097.51" y2="370.30" stroke="#555" stroke-width="0.6"/>
<text x="1099.93" y="372.10" font-size="5" fill="#333" textLength="8.5" lengthAdjust="spacingAndGlyphs">Hits</text>
<line x1="1115.66" y1="370.30" x2="1120.50" y2="370.30" stroke="#ccc" stroke-width="0.6"/>
<text x="1124.13" y="372.10" font-size="5" fill="#333" textLength="43.0" lengthAdjust="spacingAndGlyphs">Ranking metric scores</text>
<polyline points="1041.20,219.90 1048.30,225.20 1049.10,220.50 1060.90,230.00 1061.70,226.80 1063.00,223.80 1069.10,228.40 1069.90,226.40 1073.50,229.60 1074.30,226.80 1075.80,225.60 1077.00,226.70 1078.70,222.50 1085.30,227.40 1086.50,226.40 1095.00,232.60 1107.60,242.30 1128.10,258.10 1134.40,262.50 1136.70,261.50 1141.50,265.20 1142.60,264.10 1153.60,272.60 1154.50,267.80 1158.00,270.70 1158.80,268.80 1169.00,277.00 1170.30,272.20 1171.40,267.20 1173.00,266.30 1173.70,262.80 1175.60,253.00 1180.00,256.20 1180.80,246.30 1183.20,243.10 1186.30,245.20 1187.10,240.00 1187.90,225.00 1188.30,219.90" fill="none" stroke="#28f028" stroke-width="1.45" stroke-linejoin="round"/>
<text x="1050.0" y="266.0" font-family="Liberation Serif, serif" font-size="10.4" font-weight="bold" fill="#111" textLength="34.8" lengthAdjust="spacingAndGlyphs"><tspan font-style="italic">P</tspan>=0.005</text>
</svg>
</body></html>
